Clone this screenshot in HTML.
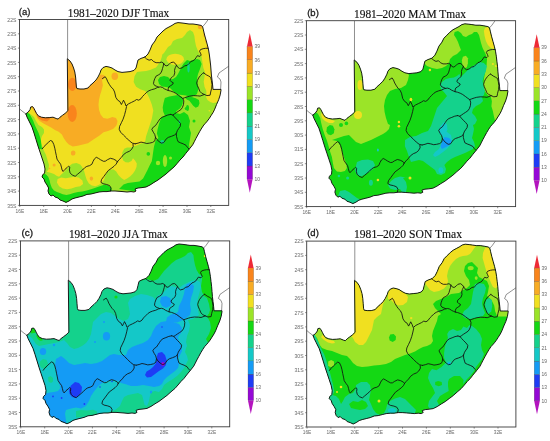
<!DOCTYPE html>
<html><head><meta charset="utf-8"><title>Tmax seasonal maps</title>
<style>
html,body{margin:0;padding:0;background:#fff;}
body{width:550px;height:441px;overflow:hidden;position:relative;}
svg{position:absolute;left:0;top:0;display:block;}
.tk{font-family:"Liberation Sans","DejaVu Sans",sans-serif;font-size:6.1px;fill:#6a6a6a;}
.cb{font-family:"Liberation Sans","DejaVu Sans",sans-serif;font-size:5.2px;fill:#666;}
.ttl{font-family:"Liberation Serif","DejaVu Serif",serif;font-size:11.6px;fill:#111;stroke:#111;stroke-width:0.15px;}
.lab{font-family:"Liberation Sans","DejaVu Sans",sans-serif;font-size:9.8px;fill:#1a1a1a;stroke:#1a1a1a;stroke-width:0.3px;}
</style></head><body>
<svg width="550" height="441" viewBox="0 0 550 441">
<defs>
<clipPath id="sa"><path d="M67.6 59.0 L70.0 61.0 L72.0 64.0 L73.6 68.0 L74.8 72.0 L75.6 77.0 L76.0 82.0 L76.4 87.0 L77.0 88.6 L80.0 89.0 L84.0 89.0 L88.0 88.0 L90.0 85.6 L93.0 83.0 L96.0 80.0 L98.0 77.0 L100.0 73.0 L101.0 70.0 L103.0 67.6 L106.0 66.4 L109.0 67.0 L112.0 68.0 L115.0 70.0 L118.0 71.6 L122.0 72.4 L126.0 72.0 L130.0 71.6 L134.0 70.4 L136.0 68.0 L137.0 64.0 L138.0 60.0 L141.0 58.4 L145.0 57.0 L148.0 54.0 L150.0 50.0 L152.0 45.0 L155.0 41.0 L157.0 37.0 L160.0 34.0 L163.0 31.0 L166.0 28.6 L169.0 27.0 L172.0 25.4 L175.0 23.4 L178.0 22.6 L182.0 23.0 L185.0 23.4 L189.0 24.0 L193.0 24.0 L197.0 24.6 L201.0 25.4 L202.6 26.6 L203.4 30.0 L204.6 35.0 L206.0 40.0 L207.4 45.0 L208.6 50.0 L209.4 55.0 L210.0 60.0 L210.6 65.0 L211.0 70.0 L211.4 75.0 L212.0 80.0 L212.6 85.0 L213.0 89.4 L216.0 89.4 L221.0 89.4 L221.0 90.2 L220.2 94.9 L218.7 99.7 L216.6 104.4 L214.7 109.2 L213.1 112.4 L211.0 115.7 L209.1 118.7 L207.2 121.2 L205.2 123.5 L203.8 125.0 L201.8 128.0 L199.8 131.3 L197.8 135.0 L195.9 138.5 L194.3 141.7 L192.7 144.8 L189.5 148.8 L185.6 153.6 L183.0 157.0 L180.0 160.0 L177.0 163.6 L174.0 167.0 L170.0 170.4 L166.0 174.0 L162.0 177.0 L158.0 180.0 L154.0 182.4 L150.0 185.0 L146.0 187.0 L142.0 187.6 L138.0 188.0 L135.0 189.0 L136.0 191.0 L134.0 192.0 L131.0 191.6 L127.0 192.0 L123.0 191.6 L119.0 191.3 L115.0 191.0 L111.0 191.0 L107.0 191.6 L103.0 191.6 L99.0 192.0 L95.0 193.0 L91.0 194.0 L87.0 194.4 L83.0 196.0 L79.0 197.0 L75.0 198.0 L72.0 199.0 L69.0 201.0 L66.0 202.4 L63.0 201.0 L60.0 200.0 L58.0 198.0 L55.0 197.0 L53.0 195.0 L51.0 196.0 L49.0 194.0 L48.0 191.0 L48.6 188.0 L47.0 185.0 L45.0 182.0 L44.0 179.0 L42.0 177.0 L42.6 175.0 L44.6 173.0 L45.0 169.0 L44.0 164.0 L42.0 158.0 L40.0 152.0 L38.0 146.0 L36.0 139.5 L34.0 133.0 L32.0 127.0 L29.0 121.0 L27.0 117.0 L26.0 114.0 L25.6 114.0 L28.2 112.1 L30.1 109.5 L30.7 107.0 L32.6 106.6 L33.9 108.3 L35.2 110.8 L36.5 113.4 L38.4 115.9 L41.5 117.2 L45.4 117.8 L49.2 117.6 L53.0 117.2 L56.2 118.5 L58.1 119.1 L60.0 117.2 L62.5 115.3 L65.1 113.4 L67.6 111.0Z"/></clipPath>
<clipPath id="fr"><rect x="19.5" y="19.5" width="209.2" height="185.9"/></clipPath>
<filter id="bl" x="-5%" y="-5%" width="110%" height="110%"><feGaussianBlur stdDeviation="0.5"/></filter>
</defs>
<rect x="0" y="0" width="550" height="441" fill="#ffffff"/>

<g transform="translate(0.0,0.0)">
<g clip-path="url(#sa)">
<rect x="15" y="15" width="220" height="195" fill="#f0e020"/>
<path d="M35.8 114.0 L30.0 105.0 L60.0 100.0 L60.0 50.0 L90.0 50.0 L95.0 82.0 L100.6 74.5 L104.0 75.0 L105.0 77.0 L102.0 80.3 L102.9 85.2 L101.7 90.1 L100.1 95.0 L99.0 99.9 L98.5 104.8 L99.0 109.7 L100.6 114.6 L103.4 117.9 L107.5 118.7 L112.4 117.1 L116.0 118.0 L117.5 121.0 L117.0 124.0 L116.0 126.0 L113.0 129.0 L108.0 131.0 L103.5 132.2 L99.2 135.8 L93.4 139.5 L88.0 143.3 L82.9 144.5 L77.8 145.8 L72.7 146.5 L68.9 144.5 L66.4 142.0 L63.8 138.2 L61.9 134.4 L58.7 131.8 L54.9 129.9 L51.1 127.4 L47.3 125.5 L43.5 123.5 L39.6 121.0 L37.1 117.8Z" fill="#f8ac24"/>
<path d="M20.0 110.0 L28.5 112.5 L31.0 114.5 L34.0 117.0 L36.0 121.0 L38.5 125.0 L42.0 127.0 L44.0 129.5 L44.0 133.0 L42.0 136.0 L41.0 139.0 L41.0 143.0 L42.5 147.0 L44.0 151.0 L46.0 155.0 L47.5 160.0 L49.0 165.0 L48.5 169.5 L46.7 171.7 L50.4 172.7 L54.0 173.9 L56.9 176.1 L59.1 176.8 L61.3 174.6 L64.2 171.7 L67.1 168.8 L69.3 165.9 L72.2 163.7 L76.5 163.0 L80.2 164.5 L82.4 167.4 L84.1 171.0 L85.3 175.4 L86.7 179.7 L88.9 183.4 L91.8 185.5 L95.5 186.3 L99.1 184.8 L102.0 182.6 L104.2 179.7 L105.0 176.5 L106.7 172.8 L109.6 170.0 L113.3 169.2 L116.2 171.4 L118.4 175.0 L121.3 178.0 L124.2 180.0 L127.1 178.6 L130.0 176.5 L133.0 173.5 L135.0 170.6 L136.5 167.0 L136.8 163.4 L135.0 160.5 L133.0 158.3 L131.5 161.0 L128.5 162.6 L125.6 162.3 L123.2 160.5 L122.0 156.8 L122.3 152.5 L124.2 148.8 L127.1 147.4 L130.7 147.4 L133.6 146.6 L138.0 145.0 L141.0 143.5 L144.0 143.0 L145.3 141.0 L146.0 136.5 L148.9 127.8 L151.8 119.1 L153.3 110.4 L151.8 104.5 L149.6 98.7 L147.5 94.4 L145.3 91.0 L140.2 89.3 L136.1 86.8 L133.6 81.9 L134.5 76.2 L137.0 72.0 L141.0 71.4 L146.0 71.0 L150.0 70.0 L156.0 67.4 L158.6 64.0 L160.5 60.8 L161.8 57.0 L162.3 54.5 L164.0 53.0 L166.0 50.0 L168.0 47.0 L171.0 45.0 L173.0 41.0 L177.0 39.0 L182.0 38.0 L185.0 35.0 L187.0 32.0 L190.0 30.0 L193.0 32.0 L194.4 36.0 L195.0 41.0 L196.0 46.0 L197.6 50.0 L199.0 53.0 L201.6 56.4 L202.5 62.7 L203.3 67.8 L205.0 72.3 L204.4 77.4 L203.7 81.8 L204.6 86.9 L206.3 90.7 L206.5 94.5 L206.0 97.0 L207.5 100.0 L210.7 102.3 L213.1 103.0 L216.3 102.5 L220.0 101.0 L225.0 105.0 L215.0 125.0 L200.0 150.0 L170.0 185.0 L140.0 200.0 L100.0 205.0 L60.0 210.0 L40.0 200.0 L20.0 150.0 L15.0 110.0Z" fill="#9be428"/>
<path d="M57.6 179.0 L61.3 177.5 L65.6 178.3 L70.0 177.5 L74.4 176.8 L78.7 177.5 L82.4 180.5 L83.1 184.1 L80.2 186.3 L75.8 187.0 L71.5 188.5 L67.1 189.2 L62.7 188.5 L59.1 186.3 L56.9 182.6Z" fill="#f0e020"/>
<path d="M24.0 113.0 L27.0 112.5 L29.5 114.0 L31.5 117.5 L33.3 121.0 L34.8 125.0 L36.7 129.0 L38.6 133.0 L40.0 137.0 L41.0 141.0 L41.5 146.0 L42.0 149.0 L38.0 149.0 L30.0 125.0Z" fill="#14d814"/>
<path d="M41.0 172.0 L43.4 173.6 L46.0 174.6 L48.2 176.8 L49.6 180.5 L50.4 184.1 L51.8 187.7 L54.0 190.6 L56.9 192.1 L59.8 193.1 L62.7 194.3 L66.4 195.0 L70.0 194.3 L73.6 193.1 L78.0 192.1 L82.4 191.4 L86.7 190.6 L91.1 189.2 L95.5 187.7 L99.8 186.3 L104.2 184.8 L107.5 185.2 L111.1 187.4 L111.8 190.3 L112.0 196.0 L100.0 200.0 L66.0 206.0 L45.0 200.0 L38.0 185.0Z" fill="#14d814"/>
<path d="M119.0 189.0 L123.5 184.5 L127.8 183.0 L133.6 182.3 L139.5 181.5 L143.1 178.6 L145.3 174.3 L147.5 169.9 L149.6 165.5 L151.8 161.2 L152.5 156.8 L153.3 151.0 L154.0 146.6 L155.5 141.0 L158.4 138.0 L156.9 133.6 L157.6 129.3 L159.1 123.5 L161.3 117.6 L164.9 115.5 L163.2 111.8 L162.7 107.5 L163.5 103.1 L164.2 100.2 L164.9 98.0 L169.3 96.5 L173.6 95.8 L178.0 95.1 L181.6 96.5 L183.1 100.2 L182.4 104.5 L180.2 108.2 L176.5 111.1 L176.0 113.0 L180.0 114.0 L184.0 112.0 L188.0 115.0 L190.0 121.0 L189.0 127.0 L191.0 133.0 L190.0 139.0 L189.0 145.0 L190.0 150.0 L170.0 175.0 L140.0 192.0Z" fill="#14d814"/>
<path d="M187.0 60.0 L190.0 61.0 L193.0 60.0 L197.0 59.0 L200.0 60.0 L201.6 64.0 L200.0 69.0 L198.0 74.0 L197.0 79.0 L197.6 84.0 L198.4 89.0 L197.0 94.0 L194.0 96.0 L190.0 97.0 L186.0 95.5 L182.0 95.0 L178.0 94.5 L174.0 92.0 L170.0 88.0 L166.0 87.0 L162.0 86.5 L159.0 84.0 L158.0 80.0 L160.0 77.0 L164.0 76.0 L168.0 77.0 L170.5 79.5 L173.0 79.0 L176.0 77.0 L178.0 74.0 L180.0 70.0 L182.0 66.0 L184.0 63.0Z" fill="#14d814"/>
<path d="M184.9 97.5 L188.1 96.3 L191.9 96.9 L195.7 98.2 L198.9 100.1 L199.5 103.3 L198.3 106.5 L195.7 107.7 L193.2 105.8 L191.3 103.3 L189.4 100.7 L186.8 99.5Z" fill="#14d814"/>
<path d="M36.5 113.0 L40.0 114.0 L45.0 116.0 L50.0 116.5 L50.0 119.0 L47.0 121.5 L42.0 120.5 L38.0 118.0Z" fill="#f9841c"/>
<ellipse cx="91.4" cy="178.6" rx="1.7" ry="2.1" fill="#f8ac24"/>
<ellipse cx="54.1" cy="164.9" rx="1.5" ry="1.5" fill="#f8ac24"/>
<ellipse cx="49.5" cy="168.5" rx="0.8" ry="0.8" fill="#f8ac24"/>
<ellipse cx="175.2" cy="59.3" rx="8.8" ry="5.6" fill="#f0e020"/>
<ellipse cx="204.3" cy="35.0" rx="0.9" ry="2.0" fill="#f8ac24"/>
<ellipse cx="206.0" cy="41.0" rx="0.8" ry="1.8" fill="#f8ac24"/>
<ellipse cx="207.4" cy="46.5" rx="0.8" ry="1.5" fill="#f8ac24"/>
<ellipse cx="213.3" cy="111.4" rx="0.9" ry="0.9" fill="#f0e020"/>
<ellipse cx="209.3" cy="110.8" rx="0.8" ry="0.8" fill="#f0e020"/>
<ellipse cx="148.3" cy="153.9" rx="1.8" ry="1.8" fill="#14d814"/>
<ellipse cx="165.0" cy="161.0" rx="2.2" ry="6.0" fill="#9be428"/>
<ellipse cx="158.0" cy="163.0" rx="2.2" ry="2.2" fill="#9be428"/>
<ellipse cx="170.5" cy="158.0" rx="1.5" ry="1.5" fill="#9be428"/>
<ellipse cx="187.5" cy="108.0" rx="1.5" ry="3.0" fill="#14d814"/>
<ellipse cx="194.0" cy="121.0" rx="1.5" ry="1.5" fill="#14d814"/>
<ellipse cx="186.2" cy="108.4" rx="1.5" ry="1.5" fill="#14d814"/>
<ellipse cx="72.3" cy="84.4" rx="4.2" ry="6.6" fill="#f9841c"/>
<ellipse cx="72.2" cy="113.5" rx="4.6" ry="8.5" fill="#f9841c"/>
<ellipse cx="114.8" cy="76.2" rx="3.3" ry="3.7" fill="#f8ac24"/>
<ellipse cx="73.2" cy="153.0" rx="2.3" ry="2.6" fill="#f8ac24"/>
<ellipse cx="200.0" cy="27.0" rx="2.2" ry="2.2" fill="#f8ac24"/>
<ellipse cx="188.5" cy="67.5" rx="1.2" ry="5.0" fill="#14d28c"/>
<ellipse cx="162.4" cy="141.8" rx="2.2" ry="1.9" fill="#14d28c"/>
<ellipse cx="179.5" cy="122.0" rx="0.8" ry="2.0" fill="#14d28c"/>
</g>
<g clip-path="url(#fr)" fill="none" stroke="#333" stroke-width="0.55" stroke-linejoin="round">
<path d="M67.6 19.8 L67.6 59.0"/>
<path d="M18.6 108.0 L22.0 111.0 L26.0 114.0"/>
<path d="M202.6 26.6 L205.0 24.0 L208.0 19.8"/>
<path d="M229.0 66.0 L224.0 69.5 L219.0 73.0 L217.4 77.0 L220.0 79.0 L221.0 82.0 L220.6 89.4"/>
</g>
<g fill="none" stroke="#111" stroke-width="0.85" stroke-linejoin="round" stroke-linecap="round">
<path d="M102.5 78.5 L105.2 76.7 L106.6 78.9 L107.8 81.8 L109.5 84.7 L111.0 86.9 L113.2 89.1 L114.6 92.0 L115.8 97.3 L117.7 100.2 L119.9 101.6 L121.4 104.5 L122.5 102.4 L123.5 100.2 L125.0 103.1 L126.0 106.0 L127.2 105.0"/>
<path d="M127.2 105.0 L128.6 103.8 L131.5 102.4 L134.5 100.9 L136.6 99.5 L138.8 100.2 L141.0 98.7 L142.5 96.5 L144.6 94.4 L146.8 92.2 L149.0 90.7 L151.6 89.7 L154.8 88.8 L157.4 87.5 L158.6 87.2 L160.5 86.9 L162.5 87.5 L164.4 88.8 L166.3 89.7 L168.2 90.5 L170.5 91.0 L173.3 92.0 L175.8 93.3 L178.4 95.2 L180.9 97.1 L182.8 98.4 L184.7 97.7 L187.3 96.8 L189.8 96.1 L193.6 95.6 L197.5 95.8 L200.0 96.1 L204.4 94.5"/>
<path d="M163.7 63.4 L163.3 65.9 L162.5 68.5 L161.8 71.0 L160.5 73.5 L158.6 74.8 L156.1 76.1 L154.8 78.6 L153.9 81.2 L153.5 83.7 L154.8 85.6 L156.7 86.3 L158.6 87.2"/>
<path d="M176.5 65.3 L175.2 67.8 L174.5 70.4 L174.8 72.9 L173.9 75.5 L172.0 77.4 L170.5 78.6 L170.1 80.5 L171.4 81.8 L173.3 82.8 L172.6 84.4 L170.7 85.6 L168.8 86.9 L168.2 88.8 L168.2 90.5"/>
<path d="M144.6 57.0 L146.5 58.9 L149.1 60.2 L151.6 59.5 L153.5 61.5 L156.1 62.7 L159.3 62.7 L161.8 62.1 L163.7 63.4 L165.0 65.3 L166.9 65.9 L168.8 64.6 L170.7 62.7 L173.3 62.1 L175.2 63.4 L176.5 65.3 L177.7 67.2 L179.6 68.5 L182.2 67.8 L184.7 65.9 L187.2 65.3 L189.1 63.4 L191.0 61.5 L192.9 60.8 L194.8 59.5 L196.1 57.6 L197.4 55.7 L199.9 56.4 L201.2 55.1 L200.5 53.2 L199.5 51.3 L200.5 49.6 L203.1 48.7 L205.6 48.3 L208.2 48.3"/>
<path d="M182.8 98.4 L183.8 100.9 L183.5 104.5 L182.4 107.5 L180.9 109.6 L178.7 111.1 L176.5 112.5 L174.4 114.0 L172.9 115.0"/>
<path d="M170.7 114.4 L172.9 115.0 L174.4 116.9 L176.5 119.1 L178.7 121.3 L180.6 123.7 L180.2 126.4 L178.7 128.5 L177.3 130.7 L176.3 133.6 L174.4 135.1 L171.5 136.3 L168.5 137.3 L166.4 138.7 L164.9 140.9 L163.5 142.7 L161.3 143.1 L159.1 141.6 L156.9 139.5 L155.5 137.3 L154.7 134.4 L153.3 132.2 L151.8 129.3 L153.3 127.1 L155.5 125.6 L156.9 123.5 L158.4 121.3 L159.8 119.1 L162.0 117.3 L164.9 116.2 L167.8 115.0 L170.7 114.4"/>
<path d="M176.3 133.6 L176.5 136.5 L177.3 139.5 L178.0 141.6 L180.2 142.7 L183.1 143.8 L186.0 145.3 L187.5 147.5 L188.9 148.9"/>
<path d="M155.5 137.3 L154.8 140.9 L152.6 142.4 L149.7 143.1 L146.8 143.5 L143.9 142.7 L141.0 142.1 L138.1 143.1 L135.2 143.8"/>
<path d="M126.5 106.7 L125.7 110.4 L124.6 114.7 L123.1 119.1 L121.4 122.7 L119.6 126.4 L119.2 129.3 L120.6 132.2 L123.5 135.1 L126.5 138.0 L129.4 140.9 L132.3 143.1 L135.2 143.8"/>
<path d="M133.0 144.0 L133.2 146.6 L131.5 149.5 L129.3 151.3 L126.4 152.5 L123.5 154.6 L121.3 157.5 L119.1 159.7 L117.3 161.9"/>
<path d="M42.2 148.9 L43.9 146.7 L46.1 144.5 L48.3 142.4 L50.5 140.5 L52.3 141.3 L53.8 144.5 L54.8 148.2 L55.5 151.8 L56.3 155.5 L57.0 159.1 L58.7 161.7 L60.6 164.2 L61.4 167.1 L62.1 170.0 L63.1 171.5 L65.0 169.3 L67.2 167.5 L68.6 166.1 L69.8 167.1 L69.4 170.0 L70.1 172.9 L72.3 175.1 L75.2 176.3 L77.4 174.4 L80.0 172.2 L82.5 170.0 L84.6 167.8 L86.8 166.4 L89.7 165.6 L91.9 164.2 L93.1 161.3 L94.5 158.8 L96.3 157.3 L98.5 158.4 L100.6 159.8 L103.5 161.3 L105.3 161.2 L107.5 159.7 L110.4 158.3 L113.3 159.0 L116.2 160.5 L117.3 161.9"/>
<path d="M117.3 161.9 L116.2 164.1 L114.0 166.3 L111.1 168.5 L108.2 170.6 L106.0 173.5 L103.8 176.5 L101.6 179.4 L100.9 182.3 L103.1 183.7 L106.7 184.5 L109.6 185.6 L111.1 188.1 L110.4 191.0"/>
<path d="M203.7 72.9 L206.3 74.8 L208.8 76.1 L210.7 77.4 L211.4 80.5 L212.0 84.4 L211.7 88.2 L210.7 92.0 L210.1 95.2 L206.9 95.6 L204.4 94.5 L201.8 93.3 L199.9 91.4 L198.6 88.2 L197.4 85.6 L196.7 83.1 L197.4 80.5 L198.6 78.0 L200.5 75.5 L202.5 73.5 L203.7 72.9"/>
<path d="M67.6 59.0 L70.0 61.0 L72.0 64.0 L73.6 68.0 L74.8 72.0 L75.6 77.0 L76.0 82.0 L76.4 87.0 L77.0 88.6 L80.0 89.0 L84.0 89.0 L88.0 88.0 L90.0 85.6 L93.0 83.0 L96.0 80.0 L98.0 77.0 L100.0 73.0 L101.0 70.0 L103.0 67.6 L106.0 66.4 L109.0 67.0 L112.0 68.0 L115.0 70.0 L118.0 71.6 L122.0 72.4 L126.0 72.0 L130.0 71.6 L134.0 70.4 L136.0 68.0 L137.0 64.0 L138.0 60.0 L141.0 58.4 L145.0 57.0 L148.0 54.0 L150.0 50.0 L152.0 45.0 L155.0 41.0 L157.0 37.0 L160.0 34.0 L163.0 31.0 L166.0 28.6 L169.0 27.0 L172.0 25.4 L175.0 23.4 L178.0 22.6 L182.0 23.0 L185.0 23.4 L189.0 24.0 L193.0 24.0 L197.0 24.6 L201.0 25.4 L202.6 26.6 L203.4 30.0 L204.6 35.0 L206.0 40.0 L207.4 45.0 L208.6 50.0 L209.4 55.0 L210.0 60.0 L210.6 65.0 L211.0 70.0 L211.4 75.0 L212.0 80.0 L212.6 85.0 L213.0 89.4 L216.0 89.4 L221.0 89.4 L221.0 90.2 L220.2 94.9 L218.7 99.7 L216.6 104.4 L214.7 109.2 L213.1 112.4 L211.0 115.7 L209.1 118.7 L207.2 121.2 L205.2 123.5 L203.8 125.0 L201.8 128.0 L199.8 131.3 L197.8 135.0 L195.9 138.5 L194.3 141.7 L192.7 144.8 L189.5 148.8 L185.6 153.6 L183.0 157.0 L180.0 160.0 L177.0 163.6 L174.0 167.0 L170.0 170.4 L166.0 174.0 L162.0 177.0 L158.0 180.0 L154.0 182.4 L150.0 185.0 L146.0 187.0 L142.0 187.6 L138.0 188.0 L135.0 189.0 L136.0 191.0 L134.0 192.0 L131.0 191.6 L127.0 192.0 L123.0 191.6 L119.0 191.3 L115.0 191.0 L111.0 191.0 L107.0 191.6 L103.0 191.6 L99.0 192.0 L95.0 193.0 L91.0 194.0 L87.0 194.4 L83.0 196.0 L79.0 197.0 L75.0 198.0 L72.0 199.0 L69.0 201.0 L66.0 202.4 L63.0 201.0 L60.0 200.0 L58.0 198.0 L55.0 197.0 L53.0 195.0 L51.0 196.0 L49.0 194.0 L48.0 191.0 L48.6 188.0 L47.0 185.0 L45.0 182.0 L44.0 179.0 L42.0 177.0 L42.6 175.0 L44.6 173.0 L45.0 169.0 L44.0 164.0 L42.0 158.0 L40.0 152.0 L38.0 146.0 L36.0 139.5 L34.0 133.0 L32.0 127.0 L29.0 121.0 L27.0 117.0 L26.0 114.0 L25.6 114.0 L28.2 112.1 L30.1 109.5 L30.7 107.0 L32.6 106.6 L33.9 108.3 L35.2 110.8 L36.5 113.4 L38.4 115.9 L41.5 117.2 L45.4 117.8 L49.2 117.6 L53.0 117.2 L56.2 118.5 L58.1 119.1 L60.0 117.2 L62.5 115.3 L65.1 113.4 L67.6 111.0Z" stroke-width="0.95"/>
</g>
<rect x="19.5" y="19.5" width="209.2" height="185.9" fill="none" stroke="#3a3a3a" stroke-width="0.9"/>
<path d="M19.5 19.5 h-1.6" stroke="#444" stroke-width="0.6"/>
<text class="tk" x="7.3" y="21.6" textLength="9.1" lengthAdjust="spacingAndGlyphs">22S</text>
<path d="M19.5 33.8 h-1.6" stroke="#444" stroke-width="0.6"/>
<text class="tk" x="7.3" y="35.9" textLength="9.1" lengthAdjust="spacingAndGlyphs">23S</text>
<path d="M19.5 48.1 h-1.6" stroke="#444" stroke-width="0.6"/>
<text class="tk" x="7.3" y="50.2" textLength="9.1" lengthAdjust="spacingAndGlyphs">24S</text>
<path d="M19.5 62.4 h-1.6" stroke="#444" stroke-width="0.6"/>
<text class="tk" x="7.3" y="64.5" textLength="9.1" lengthAdjust="spacingAndGlyphs">25S</text>
<path d="M19.5 76.7 h-1.6" stroke="#444" stroke-width="0.6"/>
<text class="tk" x="7.3" y="78.8" textLength="9.1" lengthAdjust="spacingAndGlyphs">26S</text>
<path d="M19.5 91.0 h-1.6" stroke="#444" stroke-width="0.6"/>
<text class="tk" x="7.3" y="93.1" textLength="9.1" lengthAdjust="spacingAndGlyphs">27S</text>
<path d="M19.5 105.3 h-1.6" stroke="#444" stroke-width="0.6"/>
<text class="tk" x="7.3" y="107.4" textLength="9.1" lengthAdjust="spacingAndGlyphs">28S</text>
<path d="M19.5 119.6 h-1.6" stroke="#444" stroke-width="0.6"/>
<text class="tk" x="7.3" y="121.7" textLength="9.1" lengthAdjust="spacingAndGlyphs">29S</text>
<path d="M19.5 133.9 h-1.6" stroke="#444" stroke-width="0.6"/>
<text class="tk" x="7.3" y="136.0" textLength="9.1" lengthAdjust="spacingAndGlyphs">30S</text>
<path d="M19.5 148.2 h-1.6" stroke="#444" stroke-width="0.6"/>
<text class="tk" x="7.3" y="150.3" textLength="9.1" lengthAdjust="spacingAndGlyphs">31S</text>
<path d="M19.5 162.5 h-1.6" stroke="#444" stroke-width="0.6"/>
<text class="tk" x="7.3" y="164.6" textLength="9.1" lengthAdjust="spacingAndGlyphs">32S</text>
<path d="M19.5 176.8 h-1.6" stroke="#444" stroke-width="0.6"/>
<text class="tk" x="7.3" y="178.9" textLength="9.1" lengthAdjust="spacingAndGlyphs">33S</text>
<path d="M19.5 191.1 h-1.6" stroke="#444" stroke-width="0.6"/>
<text class="tk" x="7.3" y="193.2" textLength="9.1" lengthAdjust="spacingAndGlyphs">34S</text>
<path d="M19.5 205.4 h-1.6" stroke="#444" stroke-width="0.6"/>
<text class="tk" x="7.3" y="207.5" textLength="9.1" lengthAdjust="spacingAndGlyphs">35S</text>
<path d="M19.8 205.4 v1.6" stroke="#444" stroke-width="0.6"/>
<text class="tk" x="15.5" y="212.6" textLength="8.6" lengthAdjust="spacingAndGlyphs">16E</text>
<path d="M43.7 205.4 v1.6" stroke="#444" stroke-width="0.6"/>
<text class="tk" x="39.4" y="212.6" textLength="8.6" lengthAdjust="spacingAndGlyphs">18E</text>
<path d="M67.6 205.4 v1.6" stroke="#444" stroke-width="0.6"/>
<text class="tk" x="63.3" y="212.6" textLength="8.6" lengthAdjust="spacingAndGlyphs">20E</text>
<path d="M91.4 205.4 v1.6" stroke="#444" stroke-width="0.6"/>
<text class="tk" x="87.1" y="212.6" textLength="8.6" lengthAdjust="spacingAndGlyphs">22E</text>
<path d="M115.3 205.4 v1.6" stroke="#444" stroke-width="0.6"/>
<text class="tk" x="111.0" y="212.6" textLength="8.6" lengthAdjust="spacingAndGlyphs">24E</text>
<path d="M139.2 205.4 v1.6" stroke="#444" stroke-width="0.6"/>
<text class="tk" x="134.9" y="212.6" textLength="8.6" lengthAdjust="spacingAndGlyphs">26E</text>
<path d="M163.1 205.4 v1.6" stroke="#444" stroke-width="0.6"/>
<text class="tk" x="158.8" y="212.6" textLength="8.6" lengthAdjust="spacingAndGlyphs">28E</text>
<path d="M187.0 205.4 v1.6" stroke="#444" stroke-width="0.6"/>
<text class="tk" x="182.7" y="212.6" textLength="8.6" lengthAdjust="spacingAndGlyphs">30E</text>
<path d="M210.8 205.4 v1.6" stroke="#444" stroke-width="0.6"/>
<text class="tk" x="206.5" y="212.6" textLength="8.6" lengthAdjust="spacingAndGlyphs">32E</text>
<rect x="247.0" y="166.0" width="5.6" height="13.28" fill="#9408d6" stroke="#5a4a30" stroke-width="0.25"/>
<rect x="247.0" y="152.7" width="5.6" height="13.28" fill="#1e3cf5" stroke="#5a4a30" stroke-width="0.25"/>
<rect x="247.0" y="139.5" width="5.6" height="13.28" fill="#149bf5" stroke="#5a4a30" stroke-width="0.25"/>
<rect x="247.0" y="126.2" width="5.6" height="13.28" fill="#14c8c8" stroke="#5a4a30" stroke-width="0.25"/>
<rect x="247.0" y="112.9" width="5.6" height="13.28" fill="#14d28c" stroke="#5a4a30" stroke-width="0.25"/>
<rect x="247.0" y="99.6" width="5.6" height="13.28" fill="#14d814" stroke="#5a4a30" stroke-width="0.25"/>
<rect x="247.0" y="86.3" width="5.6" height="13.28" fill="#9be428" stroke="#5a4a30" stroke-width="0.25"/>
<rect x="247.0" y="73.1" width="5.6" height="13.28" fill="#f0e020" stroke="#5a4a30" stroke-width="0.25"/>
<rect x="247.0" y="59.8" width="5.6" height="13.28" fill="#f8ac24" stroke="#5a4a30" stroke-width="0.25"/>
<rect x="247.0" y="46.5" width="5.6" height="13.28" fill="#f9841c" stroke="#5a4a30" stroke-width="0.25"/>
<path d="M247.0 179.3 L252.6 179.3 L249.8 192.7Z" fill="#b414be"/>
<path d="M247.0 46.5 L252.6 46.5 L249.8 33.1Z" fill="#ee2a36"/>
<text class="cb" x="254.4" y="181.1" textLength="5.5" lengthAdjust="spacingAndGlyphs">10</text>
<text class="cb" x="254.4" y="167.8" textLength="5.5" lengthAdjust="spacingAndGlyphs">13</text>
<text class="cb" x="254.4" y="154.5" textLength="5.5" lengthAdjust="spacingAndGlyphs">16</text>
<text class="cb" x="254.4" y="141.3" textLength="5.5" lengthAdjust="spacingAndGlyphs">19</text>
<text class="cb" x="254.4" y="128.0" textLength="5.5" lengthAdjust="spacingAndGlyphs">21</text>
<text class="cb" x="254.4" y="114.7" textLength="5.5" lengthAdjust="spacingAndGlyphs">24</text>
<text class="cb" x="254.4" y="101.4" textLength="5.5" lengthAdjust="spacingAndGlyphs">27</text>
<text class="cb" x="254.4" y="88.1" textLength="5.5" lengthAdjust="spacingAndGlyphs">30</text>
<text class="cb" x="254.4" y="74.9" textLength="5.5" lengthAdjust="spacingAndGlyphs">33</text>
<text class="cb" x="254.4" y="61.6" textLength="5.5" lengthAdjust="spacingAndGlyphs">36</text>
<text class="cb" x="254.4" y="48.3" textLength="5.5" lengthAdjust="spacingAndGlyphs">39</text>
<text class="lab" x="18.8" y="14.5" textLength="11.6" lengthAdjust="spacingAndGlyphs">(a)</text>
<text class="ttl" x="67.8" y="16.5" textLength="101.4" lengthAdjust="spacingAndGlyphs">1981–2020 DJF Tmax</text>
</g>
<g transform="translate(286.9,1.2)">
<g clip-path="url(#sa)">
<rect x="15" y="15" width="220" height="195" fill="#14d814"/>
<path d="M20.0 105.0 L24.0 112.0 L26.0 110.0 L28.0 110.5 L31.0 112.5 L33.3 116.8 L34.3 121.8 L35.8 127.8 L37.8 133.8 L39.8 138.8 L41.3 143.5 L43.0 149.8 L45.0 155.8 L46.0 161.8 L47.0 166.8 L50.0 170.2 L54.0 170.8 L58.0 169.8 L60.0 166.8 L59.0 161.8 L57.0 155.8 L55.0 149.8 L53.0 143.8 L50.0 139.8 L45.1 138.8 L51.1 136.8 L57.1 134.8 L62.1 133.8 L65.1 136.8 L69.1 140.8 L74.1 142.8 L79.1 140.8 L84.1 138.8 L88.1 136.8 L92.1 134.8 L96.1 132.8 L99.1 130.8 L102.1 127.8 L103.1 123.8 L101.1 122.8 L99.1 116.8 L97.7 110.8 L97.1 104.8 L98.1 98.8 L100.1 93.8 L103.1 89.8 L108.1 87.8 L114.1 86.8 L119.1 83.8 L121.1 78.8 L122.1 73.8 L115.0 66.0 L103.0 62.0 L95.0 80.0 L95.0 50.0 L60.0 50.0 L60.0 100.0Z" fill="#9be428"/>
<path d="M40.0 126.0 L43.0 123.8 L46.0 124.5 L47.5 128.0 L47.0 132.0 L44.0 134.0 L41.0 133.0 L39.5 130.0Z" fill="#14d814"/>
<path d="M34.1 112.8 L35.1 116.8 L38.1 119.8 L42.1 121.8 L46.1 121.8 L48.1 119.8 L45.1 118.8 L41.1 117.4 L38.1 114.8 L36.1 110.8Z" fill="#f0e020"/>
<path d="M137.1 61.8 L140.1 64.8 L145.1 66.8 L150.1 67.8 L155.1 66.8 L159.1 64.8 L162.1 61.8 L163.1 57.8 L166.1 54.8 L170.1 52.8 L174.1 48.8 L172.5 44.8 L171.1 40.8 L169.1 36.8 L167.1 33.8 L167.7 30.8 L171.1 29.8 L174.1 31.8 L176.1 34.8 L179.1 35.8 L182.1 33.8 L185.1 32.8 L187.1 30.8 L190.1 30.8 L192.1 33.8 L193.1 37.8 L194.1 41.8 L195.7 46.8 L197.7 50.8 L199.1 53.8 L200.1 57.8 L199.7 63.8 L198.5 69.8 L197.7 73.8 L197.0 78.0 L196.5 84.0 L198.0 90.0 L201.0 94.0 L204.0 96.0 L205.0 100.0 L204.5 105.0 L206.0 110.0 L207.0 115.0 L208.0 119.0 L215.0 122.0 L225.0 100.0 L225.0 20.0 L170.0 15.0 L150.0 40.0 L135.0 58.0Z" fill="#9be428"/>
<path d="M176.0 55.5 L179.0 54.5 L181.0 57.0 L181.0 62.0 L180.0 66.0 L177.5 67.0 L175.5 64.0 L175.0 59.0Z" fill="#9be428"/>
<path d="M198.0 26.8 L201.0 25.8 L203.0 28.8 L205.0 33.8 L206.5 39.8 L208.0 45.8 L207.0 47.8 L204.0 46.8 L201.0 43.8 L199.0 39.8 L197.7 34.8 L197.0 29.8Z" fill="#f0e020"/>
<path d="M188.0 63.8 L193.0 60.8 L197.0 61.8 L200.0 64.8 L199.0 69.8 L197.0 74.8 L195.7 79.8 L196.5 84.8 L198.0 89.8 L197.0 93.8 L195.1 95.8 L196.1 99.8 L193.1 102.8 L189.1 104.8 L186.1 107.8 L185.1 111.8 L188.1 114.8 L190.1 118.8 L188.1 122.8 L186.1 123.8 L187.1 127.8 L186.1 132.8 L185.1 136.8 L187.1 140.8 L188.1 144.8 L186.1 147.8 L182.1 149.8 L178.1 151.8 L173.1 153.8 L168.1 155.8 L164.1 157.8 L160.1 160.8 L157.5 163.8 L159.1 167.8 L158.1 171.8 L154.1 173.8 L150.1 172.8 L148.1 168.8 L144.1 165.8 L140.1 162.8 L136.1 159.8 L132.1 158.8 L128.1 159.8 L124.1 160.8 L122.1 155.8 L120.1 149.8 L118.0 145.0 L118.1 138.8 L123.1 135.8 L129.1 134.8 L135.1 131.8 L141.1 129.8 L144.1 124.8 L146.1 118.8 L148.1 112.8 L150.1 106.8 L155.1 100.8 L160.1 94.8 L157.0 90.8 L154.0 87.8 L153.0 83.8 L155.0 80.8 L159.0 77.8 L163.0 76.8 L167.0 76.2 L170.0 74.8 L172.5 72.8 L174.0 75.8 L176.0 73.8 L179.0 70.8 L182.0 67.8 L185.0 65.4Z" fill="#14d28c"/>
<path d="M70.1 160.8 L75.1 158.8 L81.1 158.2 L86.1 159.8 L88.1 163.8 L86.1 167.8 L82.1 170.8 L78.1 173.4 L74.1 175.4 L70.1 173.8 L68.1 169.8 L69.1 164.8Z" fill="#14d28c"/>
<path d="M53.1 189.8 L58.1 188.8 L62.1 190.8 L66.1 193.8 L70.1 196.8 L74.1 198.8 L75.1 201.8 L71.1 204.4 L66.1 204.8 L61.1 201.8 L55.1 198.8 L51.1 194.8Z" fill="#14d28c"/>
<path d="M125.1 174.8 L119.1 176.2 L113.1 175.4 L108.1 176.8 L104.1 179.8 L101.1 183.8 L103.1 187.4 L108.1 188.8 L113.1 187.8 L115.1 190.8 L119.1 192.8 L115.1 192.8 L119.1 190.8 L120.1 185.8 L119.1 180.8 L116.1 176.8Z" fill="#14d28c"/>
<path d="M156.1 129.8 L160.1 130.8 L164.1 133.8 L165.1 138.8 L163.1 143.8 L160.1 147.8 L156.1 150.8 L152.1 153.8 L148.1 155.8 L146.1 153.8 L148.1 150.8 L152.1 147.8 L154.1 143.8 L155.1 138.8 L155.5 133.8Z" fill="#14c8c8"/>
<path d="M157.0 120.8 L160.0 123.0 L160.5 128.0 L159.0 132.8 L156.0 134.8 L153.0 133.0 L152.0 129.0 L153.5 125.0Z" fill="#14c8c8"/>
<path d="M157.5 135.8 L162.1 136.8 L164.7 139.8 L163.1 143.8 L159.1 145.8 L155.1 147.8 L153.5 144.8 L155.1 140.8Z" fill="#149bf5"/>
<ellipse cx="71.1" cy="113.8" rx="4.0" ry="4.0" fill="#f0e020"/>
<ellipse cx="73.1" cy="83.8" rx="2.5" ry="5.0" fill="#f0e020"/>
<ellipse cx="54.1" cy="123.8" rx="2.0" ry="2.0" fill="#14d814"/>
<ellipse cx="59.5" cy="122.2" rx="1.8" ry="1.8" fill="#14d814"/>
<ellipse cx="206.0" cy="62.8" rx="1.1" ry="1.1" fill="#f0e020"/>
<ellipse cx="209.0" cy="64.8" rx="1.1" ry="1.1" fill="#f0e020"/>
<ellipse cx="123.1" cy="176.8" rx="1.5" ry="1.5" fill="#f0e020"/>
<ellipse cx="112.0" cy="125.0" rx="1.3" ry="1.3" fill="#f0e020"/>
<ellipse cx="91.0" cy="178.8" rx="1.3" ry="1.3" fill="#f0e020"/>
<ellipse cx="84.0" cy="181.5" rx="2.0" ry="3.0" fill="#14d28c"/>
<ellipse cx="60.7" cy="176.8" rx="1.5" ry="1.5" fill="#14d28c"/>
<ellipse cx="52.0" cy="174.8" rx="1.3" ry="1.3" fill="#14d28c"/>
<ellipse cx="154.0" cy="169.0" rx="2.4" ry="3.0" fill="#14c8c8"/>
<ellipse cx="91.0" cy="148.8" rx="1.0" ry="1.5" fill="#14c8c8"/>
<ellipse cx="143.0" cy="68.8" rx="1.2" ry="1.2" fill="#f0e020"/>
<ellipse cx="124.0" cy="98.4" rx="1.4" ry="1.8" fill="#f0e020"/>
<ellipse cx="112.0" cy="120.8" rx="1.2" ry="1.2" fill="#f0e020"/>
</g>
<g clip-path="url(#fr)" fill="none" stroke="#333" stroke-width="0.55" stroke-linejoin="round">
<path d="M67.6 19.8 L67.6 59.0"/>
<path d="M18.6 108.0 L22.0 111.0 L26.0 114.0"/>
<path d="M202.6 26.6 L205.0 24.0 L208.0 19.8"/>
<path d="M229.0 66.0 L224.0 69.5 L219.0 73.0 L217.4 77.0 L220.0 79.0 L221.0 82.0 L220.6 89.4"/>
</g>
<g fill="none" stroke="#111" stroke-width="0.85" stroke-linejoin="round" stroke-linecap="round">
<path d="M102.5 78.5 L105.2 76.7 L106.6 78.9 L107.8 81.8 L109.5 84.7 L111.0 86.9 L113.2 89.1 L114.6 92.0 L115.8 97.3 L117.7 100.2 L119.9 101.6 L121.4 104.5 L122.5 102.4 L123.5 100.2 L125.0 103.1 L126.0 106.0 L127.2 105.0"/>
<path d="M127.2 105.0 L128.6 103.8 L131.5 102.4 L134.5 100.9 L136.6 99.5 L138.8 100.2 L141.0 98.7 L142.5 96.5 L144.6 94.4 L146.8 92.2 L149.0 90.7 L151.6 89.7 L154.8 88.8 L157.4 87.5 L158.6 87.2 L160.5 86.9 L162.5 87.5 L164.4 88.8 L166.3 89.7 L168.2 90.5 L170.5 91.0 L173.3 92.0 L175.8 93.3 L178.4 95.2 L180.9 97.1 L182.8 98.4 L184.7 97.7 L187.3 96.8 L189.8 96.1 L193.6 95.6 L197.5 95.8 L200.0 96.1 L204.4 94.5"/>
<path d="M163.7 63.4 L163.3 65.9 L162.5 68.5 L161.8 71.0 L160.5 73.5 L158.6 74.8 L156.1 76.1 L154.8 78.6 L153.9 81.2 L153.5 83.7 L154.8 85.6 L156.7 86.3 L158.6 87.2"/>
<path d="M176.5 65.3 L175.2 67.8 L174.5 70.4 L174.8 72.9 L173.9 75.5 L172.0 77.4 L170.5 78.6 L170.1 80.5 L171.4 81.8 L173.3 82.8 L172.6 84.4 L170.7 85.6 L168.8 86.9 L168.2 88.8 L168.2 90.5"/>
<path d="M144.6 57.0 L146.5 58.9 L149.1 60.2 L151.6 59.5 L153.5 61.5 L156.1 62.7 L159.3 62.7 L161.8 62.1 L163.7 63.4 L165.0 65.3 L166.9 65.9 L168.8 64.6 L170.7 62.7 L173.3 62.1 L175.2 63.4 L176.5 65.3 L177.7 67.2 L179.6 68.5 L182.2 67.8 L184.7 65.9 L187.2 65.3 L189.1 63.4 L191.0 61.5 L192.9 60.8 L194.8 59.5 L196.1 57.6 L197.4 55.7 L199.9 56.4 L201.2 55.1 L200.5 53.2 L199.5 51.3 L200.5 49.6 L203.1 48.7 L205.6 48.3 L208.2 48.3"/>
<path d="M182.8 98.4 L183.8 100.9 L183.5 104.5 L182.4 107.5 L180.9 109.6 L178.7 111.1 L176.5 112.5 L174.4 114.0 L172.9 115.0"/>
<path d="M170.7 114.4 L172.9 115.0 L174.4 116.9 L176.5 119.1 L178.7 121.3 L180.6 123.7 L180.2 126.4 L178.7 128.5 L177.3 130.7 L176.3 133.6 L174.4 135.1 L171.5 136.3 L168.5 137.3 L166.4 138.7 L164.9 140.9 L163.5 142.7 L161.3 143.1 L159.1 141.6 L156.9 139.5 L155.5 137.3 L154.7 134.4 L153.3 132.2 L151.8 129.3 L153.3 127.1 L155.5 125.6 L156.9 123.5 L158.4 121.3 L159.8 119.1 L162.0 117.3 L164.9 116.2 L167.8 115.0 L170.7 114.4"/>
<path d="M176.3 133.6 L176.5 136.5 L177.3 139.5 L178.0 141.6 L180.2 142.7 L183.1 143.8 L186.0 145.3 L187.5 147.5 L188.9 148.9"/>
<path d="M155.5 137.3 L154.8 140.9 L152.6 142.4 L149.7 143.1 L146.8 143.5 L143.9 142.7 L141.0 142.1 L138.1 143.1 L135.2 143.8"/>
<path d="M126.5 106.7 L125.7 110.4 L124.6 114.7 L123.1 119.1 L121.4 122.7 L119.6 126.4 L119.2 129.3 L120.6 132.2 L123.5 135.1 L126.5 138.0 L129.4 140.9 L132.3 143.1 L135.2 143.8"/>
<path d="M133.0 144.0 L133.2 146.6 L131.5 149.5 L129.3 151.3 L126.4 152.5 L123.5 154.6 L121.3 157.5 L119.1 159.7 L117.3 161.9"/>
<path d="M42.2 148.9 L43.9 146.7 L46.1 144.5 L48.3 142.4 L50.5 140.5 L52.3 141.3 L53.8 144.5 L54.8 148.2 L55.5 151.8 L56.3 155.5 L57.0 159.1 L58.7 161.7 L60.6 164.2 L61.4 167.1 L62.1 170.0 L63.1 171.5 L65.0 169.3 L67.2 167.5 L68.6 166.1 L69.8 167.1 L69.4 170.0 L70.1 172.9 L72.3 175.1 L75.2 176.3 L77.4 174.4 L80.0 172.2 L82.5 170.0 L84.6 167.8 L86.8 166.4 L89.7 165.6 L91.9 164.2 L93.1 161.3 L94.5 158.8 L96.3 157.3 L98.5 158.4 L100.6 159.8 L103.5 161.3 L105.3 161.2 L107.5 159.7 L110.4 158.3 L113.3 159.0 L116.2 160.5 L117.3 161.9"/>
<path d="M117.3 161.9 L116.2 164.1 L114.0 166.3 L111.1 168.5 L108.2 170.6 L106.0 173.5 L103.8 176.5 L101.6 179.4 L100.9 182.3 L103.1 183.7 L106.7 184.5 L109.6 185.6 L111.1 188.1 L110.4 191.0"/>
<path d="M203.7 72.9 L206.3 74.8 L208.8 76.1 L210.7 77.4 L211.4 80.5 L212.0 84.4 L211.7 88.2 L210.7 92.0 L210.1 95.2 L206.9 95.6 L204.4 94.5 L201.8 93.3 L199.9 91.4 L198.6 88.2 L197.4 85.6 L196.7 83.1 L197.4 80.5 L198.6 78.0 L200.5 75.5 L202.5 73.5 L203.7 72.9"/>
<path d="M67.6 59.0 L70.0 61.0 L72.0 64.0 L73.6 68.0 L74.8 72.0 L75.6 77.0 L76.0 82.0 L76.4 87.0 L77.0 88.6 L80.0 89.0 L84.0 89.0 L88.0 88.0 L90.0 85.6 L93.0 83.0 L96.0 80.0 L98.0 77.0 L100.0 73.0 L101.0 70.0 L103.0 67.6 L106.0 66.4 L109.0 67.0 L112.0 68.0 L115.0 70.0 L118.0 71.6 L122.0 72.4 L126.0 72.0 L130.0 71.6 L134.0 70.4 L136.0 68.0 L137.0 64.0 L138.0 60.0 L141.0 58.4 L145.0 57.0 L148.0 54.0 L150.0 50.0 L152.0 45.0 L155.0 41.0 L157.0 37.0 L160.0 34.0 L163.0 31.0 L166.0 28.6 L169.0 27.0 L172.0 25.4 L175.0 23.4 L178.0 22.6 L182.0 23.0 L185.0 23.4 L189.0 24.0 L193.0 24.0 L197.0 24.6 L201.0 25.4 L202.6 26.6 L203.4 30.0 L204.6 35.0 L206.0 40.0 L207.4 45.0 L208.6 50.0 L209.4 55.0 L210.0 60.0 L210.6 65.0 L211.0 70.0 L211.4 75.0 L212.0 80.0 L212.6 85.0 L213.0 89.4 L216.0 89.4 L221.0 89.4 L221.0 90.2 L220.2 94.9 L218.7 99.7 L216.6 104.4 L214.7 109.2 L213.1 112.4 L211.0 115.7 L209.1 118.7 L207.2 121.2 L205.2 123.5 L203.8 125.0 L201.8 128.0 L199.8 131.3 L197.8 135.0 L195.9 138.5 L194.3 141.7 L192.7 144.8 L189.5 148.8 L185.6 153.6 L183.0 157.0 L180.0 160.0 L177.0 163.6 L174.0 167.0 L170.0 170.4 L166.0 174.0 L162.0 177.0 L158.0 180.0 L154.0 182.4 L150.0 185.0 L146.0 187.0 L142.0 187.6 L138.0 188.0 L135.0 189.0 L136.0 191.0 L134.0 192.0 L131.0 191.6 L127.0 192.0 L123.0 191.6 L119.0 191.3 L115.0 191.0 L111.0 191.0 L107.0 191.6 L103.0 191.6 L99.0 192.0 L95.0 193.0 L91.0 194.0 L87.0 194.4 L83.0 196.0 L79.0 197.0 L75.0 198.0 L72.0 199.0 L69.0 201.0 L66.0 202.4 L63.0 201.0 L60.0 200.0 L58.0 198.0 L55.0 197.0 L53.0 195.0 L51.0 196.0 L49.0 194.0 L48.0 191.0 L48.6 188.0 L47.0 185.0 L45.0 182.0 L44.0 179.0 L42.0 177.0 L42.6 175.0 L44.6 173.0 L45.0 169.0 L44.0 164.0 L42.0 158.0 L40.0 152.0 L38.0 146.0 L36.0 139.5 L34.0 133.0 L32.0 127.0 L29.0 121.0 L27.0 117.0 L26.0 114.0 L25.6 114.0 L28.2 112.1 L30.1 109.5 L30.7 107.0 L32.6 106.6 L33.9 108.3 L35.2 110.8 L36.5 113.4 L38.4 115.9 L41.5 117.2 L45.4 117.8 L49.2 117.6 L53.0 117.2 L56.2 118.5 L58.1 119.1 L60.0 117.2 L62.5 115.3 L65.1 113.4 L67.6 111.0Z" stroke-width="0.95"/>
</g>
<rect x="19.5" y="19.5" width="209.2" height="185.9" fill="none" stroke="#3a3a3a" stroke-width="0.9"/>
<path d="M19.5 19.5 h-1.6" stroke="#444" stroke-width="0.6"/>
<text class="tk" x="7.3" y="21.6" textLength="9.1" lengthAdjust="spacingAndGlyphs">22S</text>
<path d="M19.5 33.8 h-1.6" stroke="#444" stroke-width="0.6"/>
<text class="tk" x="7.3" y="35.9" textLength="9.1" lengthAdjust="spacingAndGlyphs">23S</text>
<path d="M19.5 48.1 h-1.6" stroke="#444" stroke-width="0.6"/>
<text class="tk" x="7.3" y="50.2" textLength="9.1" lengthAdjust="spacingAndGlyphs">24S</text>
<path d="M19.5 62.4 h-1.6" stroke="#444" stroke-width="0.6"/>
<text class="tk" x="7.3" y="64.5" textLength="9.1" lengthAdjust="spacingAndGlyphs">25S</text>
<path d="M19.5 76.7 h-1.6" stroke="#444" stroke-width="0.6"/>
<text class="tk" x="7.3" y="78.8" textLength="9.1" lengthAdjust="spacingAndGlyphs">26S</text>
<path d="M19.5 91.0 h-1.6" stroke="#444" stroke-width="0.6"/>
<text class="tk" x="7.3" y="93.1" textLength="9.1" lengthAdjust="spacingAndGlyphs">27S</text>
<path d="M19.5 105.3 h-1.6" stroke="#444" stroke-width="0.6"/>
<text class="tk" x="7.3" y="107.4" textLength="9.1" lengthAdjust="spacingAndGlyphs">28S</text>
<path d="M19.5 119.6 h-1.6" stroke="#444" stroke-width="0.6"/>
<text class="tk" x="7.3" y="121.7" textLength="9.1" lengthAdjust="spacingAndGlyphs">29S</text>
<path d="M19.5 133.9 h-1.6" stroke="#444" stroke-width="0.6"/>
<text class="tk" x="7.3" y="136.0" textLength="9.1" lengthAdjust="spacingAndGlyphs">30S</text>
<path d="M19.5 148.2 h-1.6" stroke="#444" stroke-width="0.6"/>
<text class="tk" x="7.3" y="150.3" textLength="9.1" lengthAdjust="spacingAndGlyphs">31S</text>
<path d="M19.5 162.5 h-1.6" stroke="#444" stroke-width="0.6"/>
<text class="tk" x="7.3" y="164.6" textLength="9.1" lengthAdjust="spacingAndGlyphs">32S</text>
<path d="M19.5 176.8 h-1.6" stroke="#444" stroke-width="0.6"/>
<text class="tk" x="7.3" y="178.9" textLength="9.1" lengthAdjust="spacingAndGlyphs">33S</text>
<path d="M19.5 191.1 h-1.6" stroke="#444" stroke-width="0.6"/>
<text class="tk" x="7.3" y="193.2" textLength="9.1" lengthAdjust="spacingAndGlyphs">34S</text>
<path d="M19.5 205.4 h-1.6" stroke="#444" stroke-width="0.6"/>
<text class="tk" x="7.3" y="207.5" textLength="9.1" lengthAdjust="spacingAndGlyphs">35S</text>
<path d="M19.8 205.4 v1.6" stroke="#444" stroke-width="0.6"/>
<text class="tk" x="15.5" y="212.6" textLength="8.6" lengthAdjust="spacingAndGlyphs">16E</text>
<path d="M43.7 205.4 v1.6" stroke="#444" stroke-width="0.6"/>
<text class="tk" x="39.4" y="212.6" textLength="8.6" lengthAdjust="spacingAndGlyphs">18E</text>
<path d="M67.6 205.4 v1.6" stroke="#444" stroke-width="0.6"/>
<text class="tk" x="63.3" y="212.6" textLength="8.6" lengthAdjust="spacingAndGlyphs">20E</text>
<path d="M91.4 205.4 v1.6" stroke="#444" stroke-width="0.6"/>
<text class="tk" x="87.1" y="212.6" textLength="8.6" lengthAdjust="spacingAndGlyphs">22E</text>
<path d="M115.3 205.4 v1.6" stroke="#444" stroke-width="0.6"/>
<text class="tk" x="111.0" y="212.6" textLength="8.6" lengthAdjust="spacingAndGlyphs">24E</text>
<path d="M139.2 205.4 v1.6" stroke="#444" stroke-width="0.6"/>
<text class="tk" x="134.9" y="212.6" textLength="8.6" lengthAdjust="spacingAndGlyphs">26E</text>
<path d="M163.1 205.4 v1.6" stroke="#444" stroke-width="0.6"/>
<text class="tk" x="158.8" y="212.6" textLength="8.6" lengthAdjust="spacingAndGlyphs">28E</text>
<path d="M187.0 205.4 v1.6" stroke="#444" stroke-width="0.6"/>
<text class="tk" x="182.7" y="212.6" textLength="8.6" lengthAdjust="spacingAndGlyphs">30E</text>
<path d="M210.8 205.4 v1.6" stroke="#444" stroke-width="0.6"/>
<text class="tk" x="206.5" y="212.6" textLength="8.6" lengthAdjust="spacingAndGlyphs">32E</text>
<rect x="247.0" y="166.0" width="5.6" height="13.28" fill="#9408d6" stroke="#5a4a30" stroke-width="0.25"/>
<rect x="247.0" y="152.7" width="5.6" height="13.28" fill="#1e3cf5" stroke="#5a4a30" stroke-width="0.25"/>
<rect x="247.0" y="139.5" width="5.6" height="13.28" fill="#149bf5" stroke="#5a4a30" stroke-width="0.25"/>
<rect x="247.0" y="126.2" width="5.6" height="13.28" fill="#14c8c8" stroke="#5a4a30" stroke-width="0.25"/>
<rect x="247.0" y="112.9" width="5.6" height="13.28" fill="#14d28c" stroke="#5a4a30" stroke-width="0.25"/>
<rect x="247.0" y="99.6" width="5.6" height="13.28" fill="#14d814" stroke="#5a4a30" stroke-width="0.25"/>
<rect x="247.0" y="86.3" width="5.6" height="13.28" fill="#9be428" stroke="#5a4a30" stroke-width="0.25"/>
<rect x="247.0" y="73.1" width="5.6" height="13.28" fill="#f0e020" stroke="#5a4a30" stroke-width="0.25"/>
<rect x="247.0" y="59.8" width="5.6" height="13.28" fill="#f8ac24" stroke="#5a4a30" stroke-width="0.25"/>
<rect x="247.0" y="46.5" width="5.6" height="13.28" fill="#f9841c" stroke="#5a4a30" stroke-width="0.25"/>
<path d="M247.0 179.3 L252.6 179.3 L249.8 192.7Z" fill="#b414be"/>
<path d="M247.0 46.5 L252.6 46.5 L249.8 33.1Z" fill="#ee2a36"/>
<text class="cb" x="254.4" y="181.1" textLength="5.5" lengthAdjust="spacingAndGlyphs">10</text>
<text class="cb" x="254.4" y="167.8" textLength="5.5" lengthAdjust="spacingAndGlyphs">13</text>
<text class="cb" x="254.4" y="154.5" textLength="5.5" lengthAdjust="spacingAndGlyphs">16</text>
<text class="cb" x="254.4" y="141.3" textLength="5.5" lengthAdjust="spacingAndGlyphs">19</text>
<text class="cb" x="254.4" y="128.0" textLength="5.5" lengthAdjust="spacingAndGlyphs">21</text>
<text class="cb" x="254.4" y="114.7" textLength="5.5" lengthAdjust="spacingAndGlyphs">24</text>
<text class="cb" x="254.4" y="101.4" textLength="5.5" lengthAdjust="spacingAndGlyphs">27</text>
<text class="cb" x="254.4" y="88.1" textLength="5.5" lengthAdjust="spacingAndGlyphs">30</text>
<text class="cb" x="254.4" y="74.9" textLength="5.5" lengthAdjust="spacingAndGlyphs">33</text>
<text class="cb" x="254.4" y="61.6" textLength="5.5" lengthAdjust="spacingAndGlyphs">36</text>
<text class="cb" x="254.4" y="48.3" textLength="5.5" lengthAdjust="spacingAndGlyphs">39</text>
<text class="lab" x="20.3" y="14.5" textLength="11.6" lengthAdjust="spacingAndGlyphs">(b)</text>
<text class="ttl" x="67.1" y="16.5" textLength="112.0" lengthAdjust="spacingAndGlyphs">1981–2020 MAM Tmax</text>
</g>
<g transform="translate(1.0,221.4)">
<g clip-path="url(#sa)">
<rect x="15" y="15" width="220" height="195" fill="#14d28c"/>
<path d="M24.0 113.0 L28.0 114.6 L31.0 116.6 L33.0 119.6 L35.0 122.6 L38.0 124.6 L43.0 123.6 L48.0 122.6 L53.0 121.6 L58.0 120.6 L63.0 118.6 L66.0 121.6 L69.0 125.6 L73.0 127.6 L77.0 126.6 L81.0 124.6 L85.0 121.6 L88.0 117.6 L90.0 112.6 L91.0 106.6 L92.0 100.6 L96.0 96.6 L100.0 92.6 L105.0 90.6 L110.0 91.6 L114.0 94.6 L118.0 97.6 L123.0 99.6 L127.0 97.6 L129.0 92.6 L128.0 86.6 L127.0 81.6 L129.0 77.6 L134.0 74.6 L140.0 72.6 L146.0 73.6 L152.0 75.6 L155.0 78.6 L156.0 74.6 L160.0 72.6 L164.0 69.6 L167.0 65.6 L171.0 64.6 L178.0 66.6 L182.0 63.6 L186.0 61.6 L190.0 59.6 L195.0 58.6 L199.0 60.6 L200.0 65.6 L198.4 71.6 L197.0 76.6 L196.0 82.6 L197.0 88.6 L198.0 93.6 L192.0 97.6 L187.0 98.6 L189.0 103.6 L188.0 109.6 L186.0 114.6 L185.0 120.6 L186.0 124.6 L185.0 126.6 L184.0 130.6 L186.0 134.6 L187.0 138.6 L185.0 142.6 L183.0 146.6 L180.0 150.6 L176.0 154.6 L172.0 157.6 L167.0 160.6 L163.0 163.6 L161.0 167.6 L158.0 170.6 L154.0 169.6 L150.0 170.6 L149.0 174.6 L148.0 179.6 L146.0 184.6 L143.6 183.6 L142.4 178.6 L141.0 173.6 L137.0 171.6 L132.0 172.6 L127.0 173.6 L123.0 175.6 L121.0 179.6 L119.0 184.6 L114.0 188.6 L108.0 190.6 L102.0 191.6 L100.0 200.0 L66.0 210.0 L40.0 200.0 L30.0 150.0 L20.0 115.0Z" fill="#14c8c8"/>
<path d="M39.0 140.0 L42.0 137.6 L45.5 138.5 L47.0 142.0 L46.0 146.0 L43.0 147.6 L40.0 146.0 L38.5 143.0Z" fill="#14d28c"/>
<path d="M47.0 156.0 L49.5 154.6 L52.0 156.5 L52.0 160.0 L50.0 161.6 L47.5 160.0Z" fill="#14d28c"/>
<path d="M75.0 189.6 L80.0 188.6 L86.0 189.0 L92.0 188.4 L96.0 190.0 L96.0 194.0 L75.0 196.0Z" fill="#14d28c"/>
<path d="M55.0 137.6 L60.0 134.6 L64.0 137.6 L68.0 141.6 L73.0 143.6 L79.0 142.6 L84.0 141.6 L90.0 142.6 L96.0 141.6 L101.0 139.6 L105.0 136.6 L109.0 133.6 L113.0 132.6 L118.0 133.6 L125.0 133.6 L127.0 128.6 L131.0 125.6 L136.0 123.6 L142.0 121.6 L147.0 118.6 L150.0 114.6 L152.0 109.6 L155.0 104.6 L160.0 100.6 L166.0 99.6 L172.0 100.6 L178.0 102.6 L181.0 106.6 L180.0 111.6 L177.0 115.6 L178.0 119.6 L180.0 124.6 L181.0 129.6 L179.0 133.6 L177.0 137.6 L178.0 142.6 L177.0 146.6 L174.0 149.6 L170.0 152.6 L166.0 155.6 L163.0 158.6 L161.0 162.6 L158.0 164.6 L153.0 165.6 L148.0 164.6 L142.0 163.6 L136.0 164.6 L130.0 164.6 L124.0 162.6 L120.0 161.6 L118.0 159.6 L112.0 158.6 L106.0 159.6 L101.0 161.6 L97.0 165.0 L93.0 170.0 L90.0 174.6 L88.0 179.6 L85.0 184.6 L80.0 187.0 L75.0 186.0 L70.0 187.0 L65.0 188.6 L64.0 192.0 L66.0 206.0 L45.0 200.0 L38.0 175.0 L43.0 174.6 L45.0 172.2 L49.0 171.0 L53.0 170.6 L57.0 169.6 L59.4 166.6 L58.0 161.6 L56.0 155.6 L55.0 149.6 L54.0 143.6Z" fill="#149bf5"/>
<path d="M186.0 62.6 L190.0 61.6 L193.0 64.6 L192.0 70.6 L190.0 76.6 L189.0 82.6 L190.0 88.6 L189.0 93.6 L185.0 96.6 L181.0 99.0 L176.0 101.0 L170.0 101.0 L165.0 100.0 L166.0 96.0 L170.0 93.0 L174.0 92.0 L177.0 90.6 L178.0 84.6 L181.0 78.6 L183.0 72.6 L184.0 66.6Z" fill="#149bf5"/>
<path d="M160.0 75.6 L165.0 74.6 L169.0 76.6 L171.0 80.6 L169.0 84.6 L165.0 86.6 L161.0 84.6 L159.0 80.6Z" fill="#149bf5"/>
<path d="M74.0 160.6 L78.0 161.6 L81.0 165.6 L80.5 170.0 L78.0 174.0 L74.5 176.4 L71.0 175.6 L68.5 172.0 L68.0 168.0 L70.0 164.0Z" fill="#1e3cf5"/>
<path d="M157.0 131.6 L161.0 130.6 L164.0 133.6 L165.6 138.6 L165.0 143.6 L162.0 147.0 L158.0 149.6 L154.0 152.6 L150.0 155.6 L146.0 156.2 L144.0 153.6 L145.6 150.2 L149.0 148.2 L152.0 145.6 L154.4 142.6 L156.0 138.6 L156.0 134.6Z" fill="#1e3cf5"/>
<path d="M139.0 59.6 L146.0 57.6 L152.0 59.6 L157.0 57.6 L160.0 53.6 L163.0 49.6 L167.0 45.6 L171.0 41.6 L175.0 38.6 L180.0 36.6 L184.0 34.6 L187.0 31.6 L190.0 30.6 L192.4 33.6 L193.0 38.6 L194.0 43.6 L195.6 48.6 L198.0 52.6 L201.0 54.6 L201.0 58.6 L200.0 64.6 L201.0 70.6 L203.0 74.6 L206.0 76.6 L208.0 82.6 L209.0 88.6 L208.0 92.0 L206.0 94.6 L209.0 100.6 L210.0 106.6 L208.0 112.6 L205.0 117.6 L207.0 121.0 L214.0 118.0 L225.0 100.0 L225.0 20.0 L170.0 15.0 L150.0 40.0 L135.0 58.0Z" fill="#14d814"/>
<path d="M29.0 109.0 L30.5 105.0 L33.0 105.0 L34.5 108.5 L34.5 111.5 L32.5 111.5 L30.5 112.0Z" fill="#14d814"/>
<path d="M36.0 113.0 L38.4 115.0 L41.5 116.5 L41.5 119.0 L39.0 119.3 L36.8 117.5 L35.3 114.5Z" fill="#14d814"/>
<ellipse cx="42.0" cy="130.1" rx="3.2" ry="3.6" fill="#149bf5"/>
<ellipse cx="105.5" cy="114.8" rx="3.6" ry="4.3" fill="#149bf5"/>
<ellipse cx="53.0" cy="123.6" rx="1.2" ry="1.2" fill="#149bf5"/>
<ellipse cx="103.0" cy="100.6" rx="1.0" ry="1.0" fill="#149bf5"/>
<ellipse cx="94.0" cy="120.6" rx="1.0" ry="1.0" fill="#149bf5"/>
<ellipse cx="162.0" cy="142.6" rx="1.9" ry="1.9" fill="#9408d6"/>
<ellipse cx="162.0" cy="142.6" rx="0.9" ry="0.9" fill="#b414be"/>
<ellipse cx="52.0" cy="175.0" rx="0.9" ry="0.9" fill="#1e3cf5"/>
<ellipse cx="60.6" cy="176.6" rx="0.9" ry="0.9" fill="#1e3cf5"/>
<ellipse cx="83.4" cy="182.6" rx="0.9" ry="0.9" fill="#1e3cf5"/>
<ellipse cx="161.0" cy="105.6" rx="0.8" ry="0.8" fill="#1e3cf5"/>
<ellipse cx="99.0" cy="165.6" rx="0.8" ry="0.8" fill="#1e3cf5"/>
<ellipse cx="111.0" cy="160.0" rx="0.8" ry="0.8" fill="#1e3cf5"/>
<ellipse cx="115.0" cy="75.6" rx="1.6" ry="1.6" fill="#14d814"/>
<ellipse cx="150.0" cy="170.6" rx="1.2" ry="1.6" fill="#149bf5"/>
<ellipse cx="203.6" cy="34.6" rx="0.8" ry="1.2" fill="#f0e020"/>
</g>
<g clip-path="url(#fr)" fill="none" stroke="#333" stroke-width="0.55" stroke-linejoin="round">
<path d="M67.6 19.8 L67.6 59.0"/>
<path d="M18.6 108.0 L22.0 111.0 L26.0 114.0"/>
<path d="M202.6 26.6 L205.0 24.0 L208.0 19.8"/>
<path d="M229.0 66.0 L224.0 69.5 L219.0 73.0 L217.4 77.0 L220.0 79.0 L221.0 82.0 L220.6 89.4"/>
</g>
<g fill="none" stroke="#111" stroke-width="0.85" stroke-linejoin="round" stroke-linecap="round">
<path d="M102.5 78.5 L105.2 76.7 L106.6 78.9 L107.8 81.8 L109.5 84.7 L111.0 86.9 L113.2 89.1 L114.6 92.0 L115.8 97.3 L117.7 100.2 L119.9 101.6 L121.4 104.5 L122.5 102.4 L123.5 100.2 L125.0 103.1 L126.0 106.0 L127.2 105.0"/>
<path d="M127.2 105.0 L128.6 103.8 L131.5 102.4 L134.5 100.9 L136.6 99.5 L138.8 100.2 L141.0 98.7 L142.5 96.5 L144.6 94.4 L146.8 92.2 L149.0 90.7 L151.6 89.7 L154.8 88.8 L157.4 87.5 L158.6 87.2 L160.5 86.9 L162.5 87.5 L164.4 88.8 L166.3 89.7 L168.2 90.5 L170.5 91.0 L173.3 92.0 L175.8 93.3 L178.4 95.2 L180.9 97.1 L182.8 98.4 L184.7 97.7 L187.3 96.8 L189.8 96.1 L193.6 95.6 L197.5 95.8 L200.0 96.1 L204.4 94.5"/>
<path d="M163.7 63.4 L163.3 65.9 L162.5 68.5 L161.8 71.0 L160.5 73.5 L158.6 74.8 L156.1 76.1 L154.8 78.6 L153.9 81.2 L153.5 83.7 L154.8 85.6 L156.7 86.3 L158.6 87.2"/>
<path d="M176.5 65.3 L175.2 67.8 L174.5 70.4 L174.8 72.9 L173.9 75.5 L172.0 77.4 L170.5 78.6 L170.1 80.5 L171.4 81.8 L173.3 82.8 L172.6 84.4 L170.7 85.6 L168.8 86.9 L168.2 88.8 L168.2 90.5"/>
<path d="M144.6 57.0 L146.5 58.9 L149.1 60.2 L151.6 59.5 L153.5 61.5 L156.1 62.7 L159.3 62.7 L161.8 62.1 L163.7 63.4 L165.0 65.3 L166.9 65.9 L168.8 64.6 L170.7 62.7 L173.3 62.1 L175.2 63.4 L176.5 65.3 L177.7 67.2 L179.6 68.5 L182.2 67.8 L184.7 65.9 L187.2 65.3 L189.1 63.4 L191.0 61.5 L192.9 60.8 L194.8 59.5 L196.1 57.6 L197.4 55.7 L199.9 56.4 L201.2 55.1 L200.5 53.2 L199.5 51.3 L200.5 49.6 L203.1 48.7 L205.6 48.3 L208.2 48.3"/>
<path d="M182.8 98.4 L183.8 100.9 L183.5 104.5 L182.4 107.5 L180.9 109.6 L178.7 111.1 L176.5 112.5 L174.4 114.0 L172.9 115.0"/>
<path d="M170.7 114.4 L172.9 115.0 L174.4 116.9 L176.5 119.1 L178.7 121.3 L180.6 123.7 L180.2 126.4 L178.7 128.5 L177.3 130.7 L176.3 133.6 L174.4 135.1 L171.5 136.3 L168.5 137.3 L166.4 138.7 L164.9 140.9 L163.5 142.7 L161.3 143.1 L159.1 141.6 L156.9 139.5 L155.5 137.3 L154.7 134.4 L153.3 132.2 L151.8 129.3 L153.3 127.1 L155.5 125.6 L156.9 123.5 L158.4 121.3 L159.8 119.1 L162.0 117.3 L164.9 116.2 L167.8 115.0 L170.7 114.4"/>
<path d="M176.3 133.6 L176.5 136.5 L177.3 139.5 L178.0 141.6 L180.2 142.7 L183.1 143.8 L186.0 145.3 L187.5 147.5 L188.9 148.9"/>
<path d="M155.5 137.3 L154.8 140.9 L152.6 142.4 L149.7 143.1 L146.8 143.5 L143.9 142.7 L141.0 142.1 L138.1 143.1 L135.2 143.8"/>
<path d="M126.5 106.7 L125.7 110.4 L124.6 114.7 L123.1 119.1 L121.4 122.7 L119.6 126.4 L119.2 129.3 L120.6 132.2 L123.5 135.1 L126.5 138.0 L129.4 140.9 L132.3 143.1 L135.2 143.8"/>
<path d="M133.0 144.0 L133.2 146.6 L131.5 149.5 L129.3 151.3 L126.4 152.5 L123.5 154.6 L121.3 157.5 L119.1 159.7 L117.3 161.9"/>
<path d="M42.2 148.9 L43.9 146.7 L46.1 144.5 L48.3 142.4 L50.5 140.5 L52.3 141.3 L53.8 144.5 L54.8 148.2 L55.5 151.8 L56.3 155.5 L57.0 159.1 L58.7 161.7 L60.6 164.2 L61.4 167.1 L62.1 170.0 L63.1 171.5 L65.0 169.3 L67.2 167.5 L68.6 166.1 L69.8 167.1 L69.4 170.0 L70.1 172.9 L72.3 175.1 L75.2 176.3 L77.4 174.4 L80.0 172.2 L82.5 170.0 L84.6 167.8 L86.8 166.4 L89.7 165.6 L91.9 164.2 L93.1 161.3 L94.5 158.8 L96.3 157.3 L98.5 158.4 L100.6 159.8 L103.5 161.3 L105.3 161.2 L107.5 159.7 L110.4 158.3 L113.3 159.0 L116.2 160.5 L117.3 161.9"/>
<path d="M117.3 161.9 L116.2 164.1 L114.0 166.3 L111.1 168.5 L108.2 170.6 L106.0 173.5 L103.8 176.5 L101.6 179.4 L100.9 182.3 L103.1 183.7 L106.7 184.5 L109.6 185.6 L111.1 188.1 L110.4 191.0"/>
<path d="M203.7 72.9 L206.3 74.8 L208.8 76.1 L210.7 77.4 L211.4 80.5 L212.0 84.4 L211.7 88.2 L210.7 92.0 L210.1 95.2 L206.9 95.6 L204.4 94.5 L201.8 93.3 L199.9 91.4 L198.6 88.2 L197.4 85.6 L196.7 83.1 L197.4 80.5 L198.6 78.0 L200.5 75.5 L202.5 73.5 L203.7 72.9"/>
<path d="M67.6 59.0 L70.0 61.0 L72.0 64.0 L73.6 68.0 L74.8 72.0 L75.6 77.0 L76.0 82.0 L76.4 87.0 L77.0 88.6 L80.0 89.0 L84.0 89.0 L88.0 88.0 L90.0 85.6 L93.0 83.0 L96.0 80.0 L98.0 77.0 L100.0 73.0 L101.0 70.0 L103.0 67.6 L106.0 66.4 L109.0 67.0 L112.0 68.0 L115.0 70.0 L118.0 71.6 L122.0 72.4 L126.0 72.0 L130.0 71.6 L134.0 70.4 L136.0 68.0 L137.0 64.0 L138.0 60.0 L141.0 58.4 L145.0 57.0 L148.0 54.0 L150.0 50.0 L152.0 45.0 L155.0 41.0 L157.0 37.0 L160.0 34.0 L163.0 31.0 L166.0 28.6 L169.0 27.0 L172.0 25.4 L175.0 23.4 L178.0 22.6 L182.0 23.0 L185.0 23.4 L189.0 24.0 L193.0 24.0 L197.0 24.6 L201.0 25.4 L202.6 26.6 L203.4 30.0 L204.6 35.0 L206.0 40.0 L207.4 45.0 L208.6 50.0 L209.4 55.0 L210.0 60.0 L210.6 65.0 L211.0 70.0 L211.4 75.0 L212.0 80.0 L212.6 85.0 L213.0 89.4 L216.0 89.4 L221.0 89.4 L221.0 90.2 L220.2 94.9 L218.7 99.7 L216.6 104.4 L214.7 109.2 L213.1 112.4 L211.0 115.7 L209.1 118.7 L207.2 121.2 L205.2 123.5 L203.8 125.0 L201.8 128.0 L199.8 131.3 L197.8 135.0 L195.9 138.5 L194.3 141.7 L192.7 144.8 L189.5 148.8 L185.6 153.6 L183.0 157.0 L180.0 160.0 L177.0 163.6 L174.0 167.0 L170.0 170.4 L166.0 174.0 L162.0 177.0 L158.0 180.0 L154.0 182.4 L150.0 185.0 L146.0 187.0 L142.0 187.6 L138.0 188.0 L135.0 189.0 L136.0 191.0 L134.0 192.0 L131.0 191.6 L127.0 192.0 L123.0 191.6 L119.0 191.3 L115.0 191.0 L111.0 191.0 L107.0 191.6 L103.0 191.6 L99.0 192.0 L95.0 193.0 L91.0 194.0 L87.0 194.4 L83.0 196.0 L79.0 197.0 L75.0 198.0 L72.0 199.0 L69.0 201.0 L66.0 202.4 L63.0 201.0 L60.0 200.0 L58.0 198.0 L55.0 197.0 L53.0 195.0 L51.0 196.0 L49.0 194.0 L48.0 191.0 L48.6 188.0 L47.0 185.0 L45.0 182.0 L44.0 179.0 L42.0 177.0 L42.6 175.0 L44.6 173.0 L45.0 169.0 L44.0 164.0 L42.0 158.0 L40.0 152.0 L38.0 146.0 L36.0 139.5 L34.0 133.0 L32.0 127.0 L29.0 121.0 L27.0 117.0 L26.0 114.0 L25.6 114.0 L28.2 112.1 L30.1 109.5 L30.7 107.0 L32.6 106.6 L33.9 108.3 L35.2 110.8 L36.5 113.4 L38.4 115.9 L41.5 117.2 L45.4 117.8 L49.2 117.6 L53.0 117.2 L56.2 118.5 L58.1 119.1 L60.0 117.2 L62.5 115.3 L65.1 113.4 L67.6 111.0Z" stroke-width="0.95"/>
</g>
<rect x="19.5" y="19.5" width="209.2" height="185.9" fill="none" stroke="#3a3a3a" stroke-width="0.9"/>
<path d="M19.5 19.5 h-1.6" stroke="#444" stroke-width="0.6"/>
<text class="tk" x="7.3" y="21.6" textLength="9.1" lengthAdjust="spacingAndGlyphs">22S</text>
<path d="M19.5 33.8 h-1.6" stroke="#444" stroke-width="0.6"/>
<text class="tk" x="7.3" y="35.9" textLength="9.1" lengthAdjust="spacingAndGlyphs">23S</text>
<path d="M19.5 48.1 h-1.6" stroke="#444" stroke-width="0.6"/>
<text class="tk" x="7.3" y="50.2" textLength="9.1" lengthAdjust="spacingAndGlyphs">24S</text>
<path d="M19.5 62.4 h-1.6" stroke="#444" stroke-width="0.6"/>
<text class="tk" x="7.3" y="64.5" textLength="9.1" lengthAdjust="spacingAndGlyphs">25S</text>
<path d="M19.5 76.7 h-1.6" stroke="#444" stroke-width="0.6"/>
<text class="tk" x="7.3" y="78.8" textLength="9.1" lengthAdjust="spacingAndGlyphs">26S</text>
<path d="M19.5 91.0 h-1.6" stroke="#444" stroke-width="0.6"/>
<text class="tk" x="7.3" y="93.1" textLength="9.1" lengthAdjust="spacingAndGlyphs">27S</text>
<path d="M19.5 105.3 h-1.6" stroke="#444" stroke-width="0.6"/>
<text class="tk" x="7.3" y="107.4" textLength="9.1" lengthAdjust="spacingAndGlyphs">28S</text>
<path d="M19.5 119.6 h-1.6" stroke="#444" stroke-width="0.6"/>
<text class="tk" x="7.3" y="121.7" textLength="9.1" lengthAdjust="spacingAndGlyphs">29S</text>
<path d="M19.5 133.9 h-1.6" stroke="#444" stroke-width="0.6"/>
<text class="tk" x="7.3" y="136.0" textLength="9.1" lengthAdjust="spacingAndGlyphs">30S</text>
<path d="M19.5 148.2 h-1.6" stroke="#444" stroke-width="0.6"/>
<text class="tk" x="7.3" y="150.3" textLength="9.1" lengthAdjust="spacingAndGlyphs">31S</text>
<path d="M19.5 162.5 h-1.6" stroke="#444" stroke-width="0.6"/>
<text class="tk" x="7.3" y="164.6" textLength="9.1" lengthAdjust="spacingAndGlyphs">32S</text>
<path d="M19.5 176.8 h-1.6" stroke="#444" stroke-width="0.6"/>
<text class="tk" x="7.3" y="178.9" textLength="9.1" lengthAdjust="spacingAndGlyphs">33S</text>
<path d="M19.5 191.1 h-1.6" stroke="#444" stroke-width="0.6"/>
<text class="tk" x="7.3" y="193.2" textLength="9.1" lengthAdjust="spacingAndGlyphs">34S</text>
<path d="M19.5 205.4 h-1.6" stroke="#444" stroke-width="0.6"/>
<text class="tk" x="7.3" y="207.5" textLength="9.1" lengthAdjust="spacingAndGlyphs">35S</text>
<path d="M19.8 205.4 v1.6" stroke="#444" stroke-width="0.6"/>
<text class="tk" x="15.5" y="212.6" textLength="8.6" lengthAdjust="spacingAndGlyphs">16E</text>
<path d="M43.7 205.4 v1.6" stroke="#444" stroke-width="0.6"/>
<text class="tk" x="39.4" y="212.6" textLength="8.6" lengthAdjust="spacingAndGlyphs">18E</text>
<path d="M67.6 205.4 v1.6" stroke="#444" stroke-width="0.6"/>
<text class="tk" x="63.3" y="212.6" textLength="8.6" lengthAdjust="spacingAndGlyphs">20E</text>
<path d="M91.4 205.4 v1.6" stroke="#444" stroke-width="0.6"/>
<text class="tk" x="87.1" y="212.6" textLength="8.6" lengthAdjust="spacingAndGlyphs">22E</text>
<path d="M115.3 205.4 v1.6" stroke="#444" stroke-width="0.6"/>
<text class="tk" x="111.0" y="212.6" textLength="8.6" lengthAdjust="spacingAndGlyphs">24E</text>
<path d="M139.2 205.4 v1.6" stroke="#444" stroke-width="0.6"/>
<text class="tk" x="134.9" y="212.6" textLength="8.6" lengthAdjust="spacingAndGlyphs">26E</text>
<path d="M163.1 205.4 v1.6" stroke="#444" stroke-width="0.6"/>
<text class="tk" x="158.8" y="212.6" textLength="8.6" lengthAdjust="spacingAndGlyphs">28E</text>
<path d="M187.0 205.4 v1.6" stroke="#444" stroke-width="0.6"/>
<text class="tk" x="182.7" y="212.6" textLength="8.6" lengthAdjust="spacingAndGlyphs">30E</text>
<path d="M210.8 205.4 v1.6" stroke="#444" stroke-width="0.6"/>
<text class="tk" x="206.5" y="212.6" textLength="8.6" lengthAdjust="spacingAndGlyphs">32E</text>
<rect x="247.0" y="166.0" width="5.6" height="13.28" fill="#9408d6" stroke="#5a4a30" stroke-width="0.25"/>
<rect x="247.0" y="152.7" width="5.6" height="13.28" fill="#1e3cf5" stroke="#5a4a30" stroke-width="0.25"/>
<rect x="247.0" y="139.5" width="5.6" height="13.28" fill="#149bf5" stroke="#5a4a30" stroke-width="0.25"/>
<rect x="247.0" y="126.2" width="5.6" height="13.28" fill="#14c8c8" stroke="#5a4a30" stroke-width="0.25"/>
<rect x="247.0" y="112.9" width="5.6" height="13.28" fill="#14d28c" stroke="#5a4a30" stroke-width="0.25"/>
<rect x="247.0" y="99.6" width="5.6" height="13.28" fill="#14d814" stroke="#5a4a30" stroke-width="0.25"/>
<rect x="247.0" y="86.3" width="5.6" height="13.28" fill="#9be428" stroke="#5a4a30" stroke-width="0.25"/>
<rect x="247.0" y="73.1" width="5.6" height="13.28" fill="#f0e020" stroke="#5a4a30" stroke-width="0.25"/>
<rect x="247.0" y="59.8" width="5.6" height="13.28" fill="#f8ac24" stroke="#5a4a30" stroke-width="0.25"/>
<rect x="247.0" y="46.5" width="5.6" height="13.28" fill="#f9841c" stroke="#5a4a30" stroke-width="0.25"/>
<path d="M247.0 179.3 L252.6 179.3 L249.8 192.7Z" fill="#b414be"/>
<path d="M247.0 46.5 L252.6 46.5 L249.8 33.1Z" fill="#ee2a36"/>
<text class="cb" x="254.4" y="181.1" textLength="5.5" lengthAdjust="spacingAndGlyphs">10</text>
<text class="cb" x="254.4" y="167.8" textLength="5.5" lengthAdjust="spacingAndGlyphs">13</text>
<text class="cb" x="254.4" y="154.5" textLength="5.5" lengthAdjust="spacingAndGlyphs">16</text>
<text class="cb" x="254.4" y="141.3" textLength="5.5" lengthAdjust="spacingAndGlyphs">19</text>
<text class="cb" x="254.4" y="128.0" textLength="5.5" lengthAdjust="spacingAndGlyphs">21</text>
<text class="cb" x="254.4" y="114.7" textLength="5.5" lengthAdjust="spacingAndGlyphs">24</text>
<text class="cb" x="254.4" y="101.4" textLength="5.5" lengthAdjust="spacingAndGlyphs">27</text>
<text class="cb" x="254.4" y="88.1" textLength="5.5" lengthAdjust="spacingAndGlyphs">30</text>
<text class="cb" x="254.4" y="74.9" textLength="5.5" lengthAdjust="spacingAndGlyphs">33</text>
<text class="cb" x="254.4" y="61.6" textLength="5.5" lengthAdjust="spacingAndGlyphs">36</text>
<text class="cb" x="254.4" y="48.3" textLength="5.5" lengthAdjust="spacingAndGlyphs">39</text>
<text class="lab" x="20.5" y="14.5" textLength="11.6" lengthAdjust="spacingAndGlyphs">(c)</text>
<text class="ttl" x="67.9" y="16.5" textLength="98.8" lengthAdjust="spacingAndGlyphs">1981–2020 JJA Tmax</text>
</g>
<g transform="translate(287.2,221.6)">
<g clip-path="url(#sa)">
<rect x="15" y="15" width="220" height="195" fill="#14d814"/>
<path d="M20.0 105.0 L26.0 113.0 L29.8 116.4 L31.8 122.4 L34.8 126.4 L39.8 128.4 L44.8 129.4 L49.8 131.4 L54.8 133.4 L59.8 134.4 L62.8 137.4 L65.8 141.4 L69.8 144.4 L74.8 145.4 L80.8 144.8 L86.8 144.0 L92.8 143.4 L98.8 142.4 L103.8 140.4 L107.8 137.4 L112.8 135.4 L117.8 133.4 L122.8 132.0 L127.8 130.0 L131.8 127.4 L135.8 125.4 L139.8 124.4 L143.8 122.4 L145.8 119.4 L144.8 114.4 L145.8 109.4 L147.8 104.4 L149.8 99.4 L150.8 94.4 L153.8 92.4 L150.8 89.4 L147.8 86.4 L145.8 82.4 L148.8 79.4 L153.8 77.4 L158.8 75.4 L163.8 72.4 L167.8 72.0 L171.8 71.4 L175.8 68.4 L179.8 66.4 L182.8 63.4 L181.8 58.4 L178.8 54.4 L176.8 49.4 L177.8 44.4 L180.8 41.4 L184.8 40.4 L186.8 42.4 L190.8 46.4 L189.8 51.4 L191.8 55.4 L195.8 57.4 L199.8 59.4 L201.8 64.4 L200.8 70.4 L199.8 74.4 L204.0 78.0 L207.0 84.0 L208.0 90.0 L210.0 95.0 L222.0 95.0 L225.0 20.0 L170.0 15.0 L150.0 40.0 L135.0 58.0 L120.0 66.0 L103.0 62.0 L95.0 80.0 L95.0 50.0 L60.0 50.0 L60.0 100.0Z" fill="#9be428"/>
<path d="M41.0 140.0 L44.0 138.4 L46.8 140.0 L46.8 144.0 L44.0 145.6 L41.0 144.5Z" fill="#9be428"/>
<path d="M103.0 113.0 L106.5 112.4 L108.8 115.0 L108.5 118.5 L105.5 120.4 L102.5 119.0 L101.8 116.0Z" fill="#14d814"/>
<path d="M100.0 50.0 L100.0 75.0 L95.8 82.4 L94.8 87.4 L93.8 92.4 L89.8 95.4 L86.8 98.4 L85.8 103.4 L84.8 108.4 L82.8 112.4 L80.8 116.4 L78.8 120.4 L75.8 123.4 L71.8 123.4 L67.8 120.4 L65.8 116.4 L60.0 110.0 L60.0 50.0Z" fill="#f0e020"/>
<path d="M33.8 115.4 L36.8 118.4 L40.8 120.8 L44.8 122.0 L47.8 121.4 L46.8 119.4 L42.8 118.4 L38.8 117.4 L35.8 113.0Z" fill="#f0e020"/>
<path d="M100.8 71.4 L102.8 66.0 L106.8 64.0 L111.8 66.0 L116.8 70.0 L120.8 75.4 L119.8 80.4 L115.8 83.4 L110.8 83.8 L106.8 81.4 L103.8 78.4 L100.8 77.4Z" fill="#f0e020"/>
<path d="M135.0 58.0 L139.8 64.4 L142.8 68.4 L146.8 70.4 L151.8 69.4 L156.8 66.8 L159.8 63.4 L160.8 59.4 L159.8 54.4 L160.8 49.4 L162.8 44.4 L165.8 40.4 L168.8 37.4 L172.2 35.4 L175.8 34.4 L179.8 34.0 L182.8 32.4 L184.8 30.0 L186.8 26.8 L188.8 24.4 L188.0 18.0 L170.0 15.0 L150.0 40.0Z" fill="#f0e020"/>
<path d="M197.8 26.4 L200.8 25.4 L202.8 28.4 L204.8 34.4 L206.2 40.4 L207.4 46.4 L208.8 52.4 L209.8 58.4 L210.2 64.4 L208.8 66.8 L205.8 65.4 L203.8 61.4 L201.8 56.4 L199.8 51.4 L198.2 46.4 L196.8 41.4 L195.4 36.4 L195.8 31.4Z" fill="#f0e020"/>
<path d="M187.8 62.4 L191.8 61.4 L196.8 62.4 L198.8 66.4 L197.8 71.4 L195.8 76.4 L194.8 81.4 L195.8 86.4 L197.8 91.4 L195.8 94.4 L191.8 95.4 L187.8 96.4 L182.8 97.4 L177.8 96.4 L174.8 93.4 L176.8 89.4 L180.8 86.4 L183.8 82.4 L184.8 76.4 L185.8 70.4 L186.8 66.4Z" fill="#14d28c"/>
<path d="M199.0 78.0 L202.0 76.4 L204.8 79.0 L205.0 85.0 L204.0 90.0 L201.0 92.4 L198.5 89.0 L197.8 83.0Z" fill="#14d28c"/>
<path d="M161.8 109.4 L165.8 107.4 L169.8 109.4 L173.8 108.4 L176.2 104.8 L179.8 106.4 L182.2 103.4 L184.8 104.4 L188.8 107.4 L192.8 112.4 L194.8 117.4 L193.8 123.4 L194.8 128.4 L196.8 132.4 L194.8 137.4 L191.8 141.4 L188.8 145.4 L186.8 149.4 L183.8 153.4 L179.8 157.4 L176.8 161.4 L172.8 165.4 L168.8 169.4 L164.8 173.4 L160.8 177.4 L157.8 182.4 L150.0 186.0 L147.8 186.4 L142.8 187.4 L140.8 184.4 L141.8 179.4 L144.8 175.4 L147.8 171.4 L145.8 166.4 L142.8 161.4 L140.8 156.4 L141.8 151.4 L144.8 147.4 L149.2 148.6 L154.3 145.4 L158.8 140.8 L156.9 136.5 L156.9 131.4 L157.5 126.4 L158.8 121.3 L160.7 116.2 L160.0 112.4Z" fill="#14d28c"/>
<path d="M161.8 157.4 L166.8 154.4 L172.8 154.4 L176.4 158.4 L175.8 163.4 L171.8 167.4 L166.8 170.4 L164.8 174.4 L160.8 178.0 L155.8 181.4 L151.8 183.4 L149.8 179.4 L152.8 174.4 L157.8 171.4 L161.5 169.4 L160.8 164.4 L160.8 160.4Z" fill="#14d814"/>
<path d="M148.0 160.5 L151.0 159.4 L154.5 160.5 L154.8 163.4 L151.5 164.6 L148.0 163.5Z" fill="#14d814"/>
<path d="M41.8 174.4 L44.8 173.4 L48.8 174.4 L51.8 177.4 L53.8 182.4 L55.8 179.4 L57.8 175.4 L61.8 172.4 L65.8 171.4 L68.4 167.4 L68.8 163.4 L73.8 160.4 L79.8 160.4 L82.8 163.4 L83.8 168.4 L82.8 173.4 L81.8 178.4 L83.8 182.4 L85.8 187.4 L88.8 191.4 L92.8 193.4 L96.8 191.4 L98.8 187.4 L99.8 183.4 L102.8 179.4 L107.8 176.8 L112.8 175.4 L117.8 177.4 L121.8 181.4 L124.8 184.4 L128.8 188.4 L126.8 194.0 L124.8 204.4 L64.8 208.4 L40.8 190.4Z" fill="#14d28c"/>
<path d="M61.8 182.4 L65.8 179.4 L70.8 180.4 L74.8 178.4 L78.8 180.4 L80.8 184.4 L77.8 187.4 L72.8 188.4 L67.8 187.4 L63.8 186.4Z" fill="#14d814"/>
<path d="M24.0 112.5 L27.5 113.0 L29.5 117.0 L31.5 121.0 L33.0 125.0 L35.0 129.0 L37.0 133.0 L38.5 137.0 L40.0 142.0 L41.5 147.0 L43.0 152.0 L44.5 158.0 L46.0 164.0 L47.0 170.0 L45.0 175.0 L38.0 175.0 L28.0 125.0Z" fill="#14d28c"/>
<ellipse cx="161.8" cy="141.6" rx="2.2" ry="2.0" fill="#14c8c8"/>
<ellipse cx="161.8" cy="141.8" rx="1.0" ry="0.9" fill="#149bf5"/>
<ellipse cx="104.8" cy="189.0" rx="4.0" ry="2.5" fill="#14c8c8"/>
<ellipse cx="53.8" cy="165.4" rx="1.3" ry="1.3" fill="#f0e020"/>
<ellipse cx="49.8" cy="170.4" rx="1.0" ry="1.0" fill="#f0e020"/>
<ellipse cx="91.8" cy="179.4" rx="1.5" ry="1.5" fill="#f0e020"/>
<ellipse cx="183.5" cy="46.5" rx="3.0" ry="2.2" fill="#9be428"/>
<ellipse cx="189.0" cy="56.5" rx="1.5" ry="1.8" fill="#9be428"/>
<ellipse cx="124.0" cy="96.5" rx="1.2" ry="1.2" fill="#f0e020"/>
</g>
<g clip-path="url(#fr)" fill="none" stroke="#333" stroke-width="0.55" stroke-linejoin="round">
<path d="M67.6 19.8 L67.6 59.0"/>
<path d="M18.6 108.0 L22.0 111.0 L26.0 114.0"/>
<path d="M202.6 26.6 L205.0 24.0 L208.0 19.8"/>
<path d="M229.0 66.0 L224.0 69.5 L219.0 73.0 L217.4 77.0 L220.0 79.0 L221.0 82.0 L220.6 89.4"/>
</g>
<g fill="none" stroke="#111" stroke-width="0.85" stroke-linejoin="round" stroke-linecap="round">
<path d="M102.5 78.5 L105.2 76.7 L106.6 78.9 L107.8 81.8 L109.5 84.7 L111.0 86.9 L113.2 89.1 L114.6 92.0 L115.8 97.3 L117.7 100.2 L119.9 101.6 L121.4 104.5 L122.5 102.4 L123.5 100.2 L125.0 103.1 L126.0 106.0 L127.2 105.0"/>
<path d="M127.2 105.0 L128.6 103.8 L131.5 102.4 L134.5 100.9 L136.6 99.5 L138.8 100.2 L141.0 98.7 L142.5 96.5 L144.6 94.4 L146.8 92.2 L149.0 90.7 L151.6 89.7 L154.8 88.8 L157.4 87.5 L158.6 87.2 L160.5 86.9 L162.5 87.5 L164.4 88.8 L166.3 89.7 L168.2 90.5 L170.5 91.0 L173.3 92.0 L175.8 93.3 L178.4 95.2 L180.9 97.1 L182.8 98.4 L184.7 97.7 L187.3 96.8 L189.8 96.1 L193.6 95.6 L197.5 95.8 L200.0 96.1 L204.4 94.5"/>
<path d="M163.7 63.4 L163.3 65.9 L162.5 68.5 L161.8 71.0 L160.5 73.5 L158.6 74.8 L156.1 76.1 L154.8 78.6 L153.9 81.2 L153.5 83.7 L154.8 85.6 L156.7 86.3 L158.6 87.2"/>
<path d="M176.5 65.3 L175.2 67.8 L174.5 70.4 L174.8 72.9 L173.9 75.5 L172.0 77.4 L170.5 78.6 L170.1 80.5 L171.4 81.8 L173.3 82.8 L172.6 84.4 L170.7 85.6 L168.8 86.9 L168.2 88.8 L168.2 90.5"/>
<path d="M144.6 57.0 L146.5 58.9 L149.1 60.2 L151.6 59.5 L153.5 61.5 L156.1 62.7 L159.3 62.7 L161.8 62.1 L163.7 63.4 L165.0 65.3 L166.9 65.9 L168.8 64.6 L170.7 62.7 L173.3 62.1 L175.2 63.4 L176.5 65.3 L177.7 67.2 L179.6 68.5 L182.2 67.8 L184.7 65.9 L187.2 65.3 L189.1 63.4 L191.0 61.5 L192.9 60.8 L194.8 59.5 L196.1 57.6 L197.4 55.7 L199.9 56.4 L201.2 55.1 L200.5 53.2 L199.5 51.3 L200.5 49.6 L203.1 48.7 L205.6 48.3 L208.2 48.3"/>
<path d="M182.8 98.4 L183.8 100.9 L183.5 104.5 L182.4 107.5 L180.9 109.6 L178.7 111.1 L176.5 112.5 L174.4 114.0 L172.9 115.0"/>
<path d="M170.7 114.4 L172.9 115.0 L174.4 116.9 L176.5 119.1 L178.7 121.3 L180.6 123.7 L180.2 126.4 L178.7 128.5 L177.3 130.7 L176.3 133.6 L174.4 135.1 L171.5 136.3 L168.5 137.3 L166.4 138.7 L164.9 140.9 L163.5 142.7 L161.3 143.1 L159.1 141.6 L156.9 139.5 L155.5 137.3 L154.7 134.4 L153.3 132.2 L151.8 129.3 L153.3 127.1 L155.5 125.6 L156.9 123.5 L158.4 121.3 L159.8 119.1 L162.0 117.3 L164.9 116.2 L167.8 115.0 L170.7 114.4"/>
<path d="M176.3 133.6 L176.5 136.5 L177.3 139.5 L178.0 141.6 L180.2 142.7 L183.1 143.8 L186.0 145.3 L187.5 147.5 L188.9 148.9"/>
<path d="M155.5 137.3 L154.8 140.9 L152.6 142.4 L149.7 143.1 L146.8 143.5 L143.9 142.7 L141.0 142.1 L138.1 143.1 L135.2 143.8"/>
<path d="M126.5 106.7 L125.7 110.4 L124.6 114.7 L123.1 119.1 L121.4 122.7 L119.6 126.4 L119.2 129.3 L120.6 132.2 L123.5 135.1 L126.5 138.0 L129.4 140.9 L132.3 143.1 L135.2 143.8"/>
<path d="M133.0 144.0 L133.2 146.6 L131.5 149.5 L129.3 151.3 L126.4 152.5 L123.5 154.6 L121.3 157.5 L119.1 159.7 L117.3 161.9"/>
<path d="M42.2 148.9 L43.9 146.7 L46.1 144.5 L48.3 142.4 L50.5 140.5 L52.3 141.3 L53.8 144.5 L54.8 148.2 L55.5 151.8 L56.3 155.5 L57.0 159.1 L58.7 161.7 L60.6 164.2 L61.4 167.1 L62.1 170.0 L63.1 171.5 L65.0 169.3 L67.2 167.5 L68.6 166.1 L69.8 167.1 L69.4 170.0 L70.1 172.9 L72.3 175.1 L75.2 176.3 L77.4 174.4 L80.0 172.2 L82.5 170.0 L84.6 167.8 L86.8 166.4 L89.7 165.6 L91.9 164.2 L93.1 161.3 L94.5 158.8 L96.3 157.3 L98.5 158.4 L100.6 159.8 L103.5 161.3 L105.3 161.2 L107.5 159.7 L110.4 158.3 L113.3 159.0 L116.2 160.5 L117.3 161.9"/>
<path d="M117.3 161.9 L116.2 164.1 L114.0 166.3 L111.1 168.5 L108.2 170.6 L106.0 173.5 L103.8 176.5 L101.6 179.4 L100.9 182.3 L103.1 183.7 L106.7 184.5 L109.6 185.6 L111.1 188.1 L110.4 191.0"/>
<path d="M203.7 72.9 L206.3 74.8 L208.8 76.1 L210.7 77.4 L211.4 80.5 L212.0 84.4 L211.7 88.2 L210.7 92.0 L210.1 95.2 L206.9 95.6 L204.4 94.5 L201.8 93.3 L199.9 91.4 L198.6 88.2 L197.4 85.6 L196.7 83.1 L197.4 80.5 L198.6 78.0 L200.5 75.5 L202.5 73.5 L203.7 72.9"/>
<path d="M67.6 59.0 L70.0 61.0 L72.0 64.0 L73.6 68.0 L74.8 72.0 L75.6 77.0 L76.0 82.0 L76.4 87.0 L77.0 88.6 L80.0 89.0 L84.0 89.0 L88.0 88.0 L90.0 85.6 L93.0 83.0 L96.0 80.0 L98.0 77.0 L100.0 73.0 L101.0 70.0 L103.0 67.6 L106.0 66.4 L109.0 67.0 L112.0 68.0 L115.0 70.0 L118.0 71.6 L122.0 72.4 L126.0 72.0 L130.0 71.6 L134.0 70.4 L136.0 68.0 L137.0 64.0 L138.0 60.0 L141.0 58.4 L145.0 57.0 L148.0 54.0 L150.0 50.0 L152.0 45.0 L155.0 41.0 L157.0 37.0 L160.0 34.0 L163.0 31.0 L166.0 28.6 L169.0 27.0 L172.0 25.4 L175.0 23.4 L178.0 22.6 L182.0 23.0 L185.0 23.4 L189.0 24.0 L193.0 24.0 L197.0 24.6 L201.0 25.4 L202.6 26.6 L203.4 30.0 L204.6 35.0 L206.0 40.0 L207.4 45.0 L208.6 50.0 L209.4 55.0 L210.0 60.0 L210.6 65.0 L211.0 70.0 L211.4 75.0 L212.0 80.0 L212.6 85.0 L213.0 89.4 L216.0 89.4 L221.0 89.4 L221.0 90.2 L220.2 94.9 L218.7 99.7 L216.6 104.4 L214.7 109.2 L213.1 112.4 L211.0 115.7 L209.1 118.7 L207.2 121.2 L205.2 123.5 L203.8 125.0 L201.8 128.0 L199.8 131.3 L197.8 135.0 L195.9 138.5 L194.3 141.7 L192.7 144.8 L189.5 148.8 L185.6 153.6 L183.0 157.0 L180.0 160.0 L177.0 163.6 L174.0 167.0 L170.0 170.4 L166.0 174.0 L162.0 177.0 L158.0 180.0 L154.0 182.4 L150.0 185.0 L146.0 187.0 L142.0 187.6 L138.0 188.0 L135.0 189.0 L136.0 191.0 L134.0 192.0 L131.0 191.6 L127.0 192.0 L123.0 191.6 L119.0 191.3 L115.0 191.0 L111.0 191.0 L107.0 191.6 L103.0 191.6 L99.0 192.0 L95.0 193.0 L91.0 194.0 L87.0 194.4 L83.0 196.0 L79.0 197.0 L75.0 198.0 L72.0 199.0 L69.0 201.0 L66.0 202.4 L63.0 201.0 L60.0 200.0 L58.0 198.0 L55.0 197.0 L53.0 195.0 L51.0 196.0 L49.0 194.0 L48.0 191.0 L48.6 188.0 L47.0 185.0 L45.0 182.0 L44.0 179.0 L42.0 177.0 L42.6 175.0 L44.6 173.0 L45.0 169.0 L44.0 164.0 L42.0 158.0 L40.0 152.0 L38.0 146.0 L36.0 139.5 L34.0 133.0 L32.0 127.0 L29.0 121.0 L27.0 117.0 L26.0 114.0 L25.6 114.0 L28.2 112.1 L30.1 109.5 L30.7 107.0 L32.6 106.6 L33.9 108.3 L35.2 110.8 L36.5 113.4 L38.4 115.9 L41.5 117.2 L45.4 117.8 L49.2 117.6 L53.0 117.2 L56.2 118.5 L58.1 119.1 L60.0 117.2 L62.5 115.3 L65.1 113.4 L67.6 111.0Z" stroke-width="0.95"/>
</g>
<rect x="19.5" y="19.5" width="209.2" height="185.9" fill="none" stroke="#3a3a3a" stroke-width="0.9"/>
<path d="M19.5 19.5 h-1.6" stroke="#444" stroke-width="0.6"/>
<text class="tk" x="7.3" y="21.6" textLength="9.1" lengthAdjust="spacingAndGlyphs">22S</text>
<path d="M19.5 33.8 h-1.6" stroke="#444" stroke-width="0.6"/>
<text class="tk" x="7.3" y="35.9" textLength="9.1" lengthAdjust="spacingAndGlyphs">23S</text>
<path d="M19.5 48.1 h-1.6" stroke="#444" stroke-width="0.6"/>
<text class="tk" x="7.3" y="50.2" textLength="9.1" lengthAdjust="spacingAndGlyphs">24S</text>
<path d="M19.5 62.4 h-1.6" stroke="#444" stroke-width="0.6"/>
<text class="tk" x="7.3" y="64.5" textLength="9.1" lengthAdjust="spacingAndGlyphs">25S</text>
<path d="M19.5 76.7 h-1.6" stroke="#444" stroke-width="0.6"/>
<text class="tk" x="7.3" y="78.8" textLength="9.1" lengthAdjust="spacingAndGlyphs">26S</text>
<path d="M19.5 91.0 h-1.6" stroke="#444" stroke-width="0.6"/>
<text class="tk" x="7.3" y="93.1" textLength="9.1" lengthAdjust="spacingAndGlyphs">27S</text>
<path d="M19.5 105.3 h-1.6" stroke="#444" stroke-width="0.6"/>
<text class="tk" x="7.3" y="107.4" textLength="9.1" lengthAdjust="spacingAndGlyphs">28S</text>
<path d="M19.5 119.6 h-1.6" stroke="#444" stroke-width="0.6"/>
<text class="tk" x="7.3" y="121.7" textLength="9.1" lengthAdjust="spacingAndGlyphs">29S</text>
<path d="M19.5 133.9 h-1.6" stroke="#444" stroke-width="0.6"/>
<text class="tk" x="7.3" y="136.0" textLength="9.1" lengthAdjust="spacingAndGlyphs">30S</text>
<path d="M19.5 148.2 h-1.6" stroke="#444" stroke-width="0.6"/>
<text class="tk" x="7.3" y="150.3" textLength="9.1" lengthAdjust="spacingAndGlyphs">31S</text>
<path d="M19.5 162.5 h-1.6" stroke="#444" stroke-width="0.6"/>
<text class="tk" x="7.3" y="164.6" textLength="9.1" lengthAdjust="spacingAndGlyphs">32S</text>
<path d="M19.5 176.8 h-1.6" stroke="#444" stroke-width="0.6"/>
<text class="tk" x="7.3" y="178.9" textLength="9.1" lengthAdjust="spacingAndGlyphs">33S</text>
<path d="M19.5 191.1 h-1.6" stroke="#444" stroke-width="0.6"/>
<text class="tk" x="7.3" y="193.2" textLength="9.1" lengthAdjust="spacingAndGlyphs">34S</text>
<path d="M19.5 205.4 h-1.6" stroke="#444" stroke-width="0.6"/>
<text class="tk" x="7.3" y="207.5" textLength="9.1" lengthAdjust="spacingAndGlyphs">35S</text>
<path d="M19.8 205.4 v1.6" stroke="#444" stroke-width="0.6"/>
<text class="tk" x="15.5" y="212.6" textLength="8.6" lengthAdjust="spacingAndGlyphs">16E</text>
<path d="M43.7 205.4 v1.6" stroke="#444" stroke-width="0.6"/>
<text class="tk" x="39.4" y="212.6" textLength="8.6" lengthAdjust="spacingAndGlyphs">18E</text>
<path d="M67.6 205.4 v1.6" stroke="#444" stroke-width="0.6"/>
<text class="tk" x="63.3" y="212.6" textLength="8.6" lengthAdjust="spacingAndGlyphs">20E</text>
<path d="M91.4 205.4 v1.6" stroke="#444" stroke-width="0.6"/>
<text class="tk" x="87.1" y="212.6" textLength="8.6" lengthAdjust="spacingAndGlyphs">22E</text>
<path d="M115.3 205.4 v1.6" stroke="#444" stroke-width="0.6"/>
<text class="tk" x="111.0" y="212.6" textLength="8.6" lengthAdjust="spacingAndGlyphs">24E</text>
<path d="M139.2 205.4 v1.6" stroke="#444" stroke-width="0.6"/>
<text class="tk" x="134.9" y="212.6" textLength="8.6" lengthAdjust="spacingAndGlyphs">26E</text>
<path d="M163.1 205.4 v1.6" stroke="#444" stroke-width="0.6"/>
<text class="tk" x="158.8" y="212.6" textLength="8.6" lengthAdjust="spacingAndGlyphs">28E</text>
<path d="M187.0 205.4 v1.6" stroke="#444" stroke-width="0.6"/>
<text class="tk" x="182.7" y="212.6" textLength="8.6" lengthAdjust="spacingAndGlyphs">30E</text>
<path d="M210.8 205.4 v1.6" stroke="#444" stroke-width="0.6"/>
<text class="tk" x="206.5" y="212.6" textLength="8.6" lengthAdjust="spacingAndGlyphs">32E</text>
<rect x="247.0" y="166.0" width="5.6" height="13.28" fill="#9408d6" stroke="#5a4a30" stroke-width="0.25"/>
<rect x="247.0" y="152.7" width="5.6" height="13.28" fill="#1e3cf5" stroke="#5a4a30" stroke-width="0.25"/>
<rect x="247.0" y="139.5" width="5.6" height="13.28" fill="#149bf5" stroke="#5a4a30" stroke-width="0.25"/>
<rect x="247.0" y="126.2" width="5.6" height="13.28" fill="#14c8c8" stroke="#5a4a30" stroke-width="0.25"/>
<rect x="247.0" y="112.9" width="5.6" height="13.28" fill="#14d28c" stroke="#5a4a30" stroke-width="0.25"/>
<rect x="247.0" y="99.6" width="5.6" height="13.28" fill="#14d814" stroke="#5a4a30" stroke-width="0.25"/>
<rect x="247.0" y="86.3" width="5.6" height="13.28" fill="#9be428" stroke="#5a4a30" stroke-width="0.25"/>
<rect x="247.0" y="73.1" width="5.6" height="13.28" fill="#f0e020" stroke="#5a4a30" stroke-width="0.25"/>
<rect x="247.0" y="59.8" width="5.6" height="13.28" fill="#f8ac24" stroke="#5a4a30" stroke-width="0.25"/>
<rect x="247.0" y="46.5" width="5.6" height="13.28" fill="#f9841c" stroke="#5a4a30" stroke-width="0.25"/>
<path d="M247.0 179.3 L252.6 179.3 L249.8 192.7Z" fill="#b414be"/>
<path d="M247.0 46.5 L252.6 46.5 L249.8 33.1Z" fill="#ee2a36"/>
<text class="cb" x="254.4" y="181.1" textLength="5.5" lengthAdjust="spacingAndGlyphs">10</text>
<text class="cb" x="254.4" y="167.8" textLength="5.5" lengthAdjust="spacingAndGlyphs">13</text>
<text class="cb" x="254.4" y="154.5" textLength="5.5" lengthAdjust="spacingAndGlyphs">16</text>
<text class="cb" x="254.4" y="141.3" textLength="5.5" lengthAdjust="spacingAndGlyphs">19</text>
<text class="cb" x="254.4" y="128.0" textLength="5.5" lengthAdjust="spacingAndGlyphs">21</text>
<text class="cb" x="254.4" y="114.7" textLength="5.5" lengthAdjust="spacingAndGlyphs">24</text>
<text class="cb" x="254.4" y="101.4" textLength="5.5" lengthAdjust="spacingAndGlyphs">27</text>
<text class="cb" x="254.4" y="88.1" textLength="5.5" lengthAdjust="spacingAndGlyphs">30</text>
<text class="cb" x="254.4" y="74.9" textLength="5.5" lengthAdjust="spacingAndGlyphs">33</text>
<text class="cb" x="254.4" y="61.6" textLength="5.5" lengthAdjust="spacingAndGlyphs">36</text>
<text class="cb" x="254.4" y="48.3" textLength="5.5" lengthAdjust="spacingAndGlyphs">39</text>
<text class="lab" x="20.0" y="14.5" textLength="11.6" lengthAdjust="spacingAndGlyphs">(d)</text>
<text class="ttl" x="66.8" y="16.5" textLength="108.0" lengthAdjust="spacingAndGlyphs">1981–2020 SON Tmax</text>
</g>
</svg></body></html>
